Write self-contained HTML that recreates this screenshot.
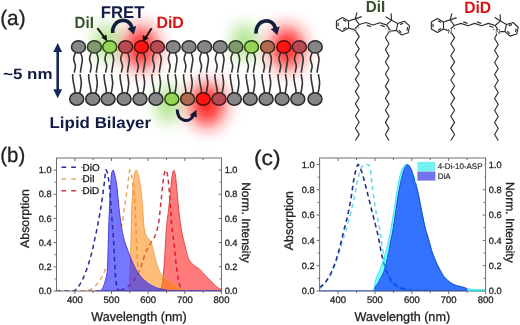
<!DOCTYPE html>
<html><head><meta charset="utf-8"><title>Figure</title>
<style>html,body{margin:0;padding:0;background:#fff;} svg{display:block;}</style></head>
<body>
<svg width="520" height="325" viewBox="0 0 520 325" text-rendering="geometricPrecision">
<rect width="520" height="325" fill="#fff"/>
<defs>
<filter id="blurG" x="-100%" y="-100%" width="300%" height="300%"><feGaussianBlur stdDeviation="8"/></filter>
<filter id="blurR" x="-100%" y="-100%" width="300%" height="300%"><feGaussianBlur stdDeviation="9"/></filter>
<marker id="ah" viewBox="0 0 10 10" refX="8" refY="5" markerWidth="4" markerHeight="4" orient="auto"><path d="M0,0 L10,5 L0,10 z" fill="#111"/></marker>
</defs>
<ellipse cx="107" cy="42" rx="13" ry="18" fill="#98dc70" fill-opacity="0.8" filter="url(#blurG)"/>
<ellipse cx="141" cy="48" rx="16" ry="21" fill="#ff1a1a" fill-opacity="1.0" filter="url(#blurR)"/>
<ellipse cx="245" cy="42" rx="13" ry="18" fill="#98dc70" fill-opacity="0.8" filter="url(#blurG)"/>
<ellipse cx="287" cy="48" rx="16" ry="21" fill="#ff1a1a" fill-opacity="1.0" filter="url(#blurR)"/>
<ellipse cx="168" cy="104" rx="12" ry="19" fill="#98dc70" fill-opacity="0.8" filter="url(#blurG)"/>
<ellipse cx="207" cy="105" rx="17" ry="21" fill="#ff1a1a" fill-opacity="1.0" filter="url(#blurR)"/>
<path d="M75.4,52.6 C75.11,53.62 73.65,56.53 73.65,58.7 C73.65,60.87 75.26,63.52 75.4,65.6 C75.54,67.68 74.68,70.02 74.5,71.2 C74.32,72.38 74.33,72.45 74.3,72.7 M80.55,52.6 C80.84,53.62 82.15,56.53 82.3,58.7 C82.45,60.87 81.74,63.52 81.45,65.6 C81.16,67.68 80.69,70.02 80.55,71.2 C80.41,72.38 80.59,72.45 80.6,72.7 M91.3,52.6 C91.01,53.62 89.55,56.53 89.55,58.7 C89.55,60.87 91.16,63.52 91.3,65.6 C91.44,67.68 90.58,70.02 90.4,71.2 C90.22,72.38 90.23,72.45 90.2,72.7 M96.45,52.6 C96.74,53.62 98.05,56.53 98.2,58.7 C98.35,60.87 97.64,63.52 97.35,65.6 C97.06,67.68 96.59,70.02 96.45,71.2 C96.31,72.38 96.49,72.45 96.5,72.7 M106.7,52.6 C106.41,53.62 104.95,56.53 104.95,58.7 C104.95,60.87 106.56,63.52 106.7,65.6 C106.84,67.68 105.98,70.02 105.8,71.2 C105.62,72.38 105.63,72.45 105.6,72.7 M111.85,52.6 C112.14,53.62 113.45,56.53 113.6,58.7 C113.75,60.87 113.04,63.52 112.75,65.6 C112.46,67.68 111.99,70.02 111.85,71.2 C111.71,72.38 111.89,72.45 111.9,72.7 M122.5,52.6 C122.21,53.62 120.75,56.53 120.75,58.7 C120.75,60.87 122.36,63.52 122.5,65.6 C122.64,67.68 121.78,70.02 121.6,71.2 C121.42,72.38 121.43,72.45 121.4,72.7 M127.65,52.6 C127.94,53.62 129.25,56.53 129.4,58.7 C129.55,60.87 128.84,63.52 128.55,65.6 C128.26,67.68 127.79,70.02 127.65,71.2 C127.51,72.38 127.69,72.45 127.7,72.7 M138.3,52.6 C138.01,53.62 136.55,56.53 136.55,58.7 C136.55,60.87 138.16,63.52 138.3,65.6 C138.44,67.68 137.58,70.02 137.4,71.2 C137.22,72.38 137.23,72.45 137.2,72.7 M143.45,52.6 C143.74,53.62 145.05,56.53 145.2,58.7 C145.35,60.87 144.64,63.52 144.35,65.6 C144.06,67.68 143.59,70.02 143.45,71.2 C143.31,72.38 143.49,72.45 143.5,72.7 M154.3,52.6 C154.01,53.62 152.55,56.53 152.55,58.7 C152.55,60.87 154.16,63.52 154.3,65.6 C154.44,67.68 153.58,70.02 153.4,71.2 C153.22,72.38 153.23,72.45 153.2,72.7 M159.45,52.6 C159.74,53.62 161.05,56.53 161.2,58.7 C161.35,60.87 160.64,63.52 160.35,65.6 C160.06,67.68 159.59,70.02 159.45,71.2 C159.31,72.38 159.49,72.45 159.5,72.7 M170.1,52.6 C169.81,53.62 168.35,56.53 168.35,58.7 C168.35,60.87 169.96,63.52 170.1,65.6 C170.24,67.68 169.38,70.02 169.2,71.2 C169.02,72.38 169.03,72.45 169,72.7 M175.25,52.6 C175.54,53.62 176.85,56.53 177,58.7 C177.15,60.87 176.44,63.52 176.15,65.6 C175.86,67.68 175.39,70.02 175.25,71.2 C175.11,72.38 175.29,72.45 175.3,72.7 M185.9,52.6 C185.61,53.62 184.15,56.53 184.15,58.7 C184.15,60.87 185.76,63.52 185.9,65.6 C186.04,67.68 185.18,70.02 185,71.2 C184.82,72.38 184.83,72.45 184.8,72.7 M191.05,52.6 C191.34,53.62 192.65,56.53 192.8,58.7 C192.95,60.87 192.24,63.52 191.95,65.6 C191.66,67.68 191.19,70.02 191.05,71.2 C190.91,72.38 191.09,72.45 191.1,72.7 M201.5,52.6 C201.21,53.62 199.75,56.53 199.75,58.7 C199.75,60.87 201.36,63.52 201.5,65.6 C201.64,67.68 200.78,70.02 200.6,71.2 C200.42,72.38 200.43,72.45 200.4,72.7 M206.65,52.6 C206.94,53.62 208.25,56.53 208.4,58.7 C208.55,60.87 207.84,63.52 207.55,65.6 C207.26,67.68 206.79,70.02 206.65,71.2 C206.51,72.38 206.69,72.45 206.7,72.7 M217.1,52.6 C216.81,53.62 215.35,56.53 215.35,58.7 C215.35,60.87 216.96,63.52 217.1,65.6 C217.24,67.68 216.38,70.02 216.2,71.2 C216.02,72.38 216.03,72.45 216,72.7 M222.25,52.6 C222.54,53.62 223.85,56.53 224,58.7 C224.15,60.87 223.44,63.52 223.15,65.6 C222.86,67.68 222.39,70.02 222.25,71.2 C222.11,72.38 222.29,72.45 222.3,72.7 M232.7,52.6 C232.41,53.62 230.95,56.53 230.95,58.7 C230.95,60.87 232.56,63.52 232.7,65.6 C232.84,67.68 231.98,70.02 231.8,71.2 C231.62,72.38 231.63,72.45 231.6,72.7 M237.85,52.6 C238.14,53.62 239.45,56.53 239.6,58.7 C239.75,60.87 239.04,63.52 238.75,65.6 C238.46,67.68 237.99,70.02 237.85,71.2 C237.71,72.38 237.89,72.45 237.9,72.7 M248.4,52.6 C248.11,53.62 246.65,56.53 246.65,58.7 C246.65,60.87 248.26,63.52 248.4,65.6 C248.54,67.68 247.68,70.02 247.5,71.2 C247.32,72.38 247.33,72.45 247.3,72.7 M253.55,52.6 C253.84,53.62 255.15,56.53 255.3,58.7 C255.45,60.87 254.74,63.52 254.45,65.6 C254.16,67.68 253.69,70.02 253.55,71.2 C253.41,72.38 253.59,72.45 253.6,72.7 M264.5,52.6 C264.21,53.62 262.75,56.53 262.75,58.7 C262.75,60.87 264.36,63.52 264.5,65.6 C264.64,67.68 263.78,70.02 263.6,71.2 C263.42,72.38 263.43,72.45 263.4,72.7 M269.65,52.6 C269.94,53.62 271.25,56.53 271.4,58.7 C271.55,60.87 270.84,63.52 270.55,65.6 C270.26,67.68 269.79,70.02 269.65,71.2 C269.51,72.38 269.69,72.45 269.7,72.7 M280.7,52.6 C280.41,53.62 278.95,56.53 278.95,58.7 C278.95,60.87 280.56,63.52 280.7,65.6 C280.84,67.68 279.98,70.02 279.8,71.2 C279.62,72.38 279.63,72.45 279.6,72.7 M285.85,52.6 C286.14,53.62 287.45,56.53 287.6,58.7 C287.75,60.87 287.04,63.52 286.75,65.6 C286.46,67.68 285.99,70.02 285.85,71.2 C285.71,72.38 285.89,72.45 285.9,72.7 M296.3,52.6 C296.01,53.62 294.55,56.53 294.55,58.7 C294.55,60.87 296.16,63.52 296.3,65.6 C296.44,67.68 295.58,70.02 295.4,71.2 C295.22,72.38 295.23,72.45 295.2,72.7 M301.45,52.6 C301.74,53.62 303.05,56.53 303.2,58.7 C303.35,60.87 302.64,63.52 302.35,65.6 C302.06,67.68 301.59,70.02 301.45,71.2 C301.31,72.38 301.49,72.45 301.5,72.7 M312.1,52.6 C311.81,53.62 310.35,56.53 310.35,58.7 C310.35,60.87 311.96,63.52 312.1,65.6 C312.24,67.68 311.38,70.02 311.2,71.2 C311.02,72.38 311.03,72.45 311,72.7 M317.25,52.6 C317.54,53.62 318.85,56.53 319,58.7 C319.15,60.87 318.44,63.52 318.15,65.6 C317.86,67.68 317.39,70.02 317.25,71.2 C317.11,72.38 317.29,72.45 317.3,72.7 M73,74.1 C72.94,74.5 72.57,75.03 72.65,76.5 C72.73,77.97 73.14,80.68 73.5,82.9 C73.86,85.12 74.58,88.03 74.8,89.8 C75.02,91.57 74.84,92.88 74.85,93.5 M80,74.1 C80.08,74.5 80.23,75.03 80.45,76.5 C80.67,77.97 81.3,80.68 81.3,82.9 C81.3,85.12 80.74,88.03 80.45,89.8 C80.16,91.57 79.7,92.88 79.55,93.5 M89,74.1 C88.94,74.5 88.57,75.03 88.65,76.5 C88.73,77.97 89.14,80.68 89.5,82.9 C89.86,85.12 90.58,88.03 90.8,89.8 C91.02,91.57 90.84,92.88 90.85,93.5 M96,74.1 C96.08,74.5 96.23,75.03 96.45,76.5 C96.67,77.97 97.3,80.68 97.3,82.9 C97.3,85.12 96.74,88.03 96.45,89.8 C96.16,91.57 95.7,92.88 95.55,93.5 M104.4,74.1 C104.34,74.5 103.97,75.03 104.05,76.5 C104.13,77.97 104.54,80.68 104.9,82.9 C105.26,85.12 105.97,88.03 106.2,89.8 C106.42,91.57 106.24,92.88 106.25,93.5 M111.4,74.1 C111.47,74.5 111.63,75.03 111.85,76.5 C112.07,77.97 112.7,80.68 112.7,82.9 C112.7,85.12 112.14,88.03 111.85,89.8 C111.56,91.57 111.1,92.88 110.95,93.5 M120.4,74.1 C120.34,74.5 119.97,75.03 120.05,76.5 C120.13,77.97 120.54,80.68 120.9,82.9 C121.26,85.12 121.97,88.03 122.2,89.8 C122.42,91.57 122.24,92.88 122.25,93.5 M127.4,74.1 C127.47,74.5 127.63,75.03 127.85,76.5 C128.07,77.97 128.7,80.68 128.7,82.9 C128.7,85.12 128.14,88.03 127.85,89.8 C127.56,91.57 127.1,92.88 126.95,93.5 M136.3,74.1 C136.24,74.5 135.87,75.03 135.95,76.5 C136.03,77.97 136.44,80.68 136.8,82.9 C137.16,85.12 137.88,88.03 138.1,89.8 C138.33,91.57 138.14,92.88 138.15,93.5 M143.3,74.1 C143.38,74.5 143.53,75.03 143.75,76.5 C143.97,77.97 144.6,80.68 144.6,82.9 C144.6,85.12 144.04,88.03 143.75,89.8 C143.46,91.57 143,92.88 142.85,93.5 M152.2,74.1 C152.14,74.5 151.77,75.03 151.85,76.5 C151.93,77.97 152.34,80.68 152.7,82.9 C153.06,85.12 153.78,88.03 154,89.8 C154.23,91.57 154.04,92.88 154.05,93.5 M159.2,74.1 C159.28,74.5 159.43,75.03 159.65,76.5 C159.87,77.97 160.5,80.68 160.5,82.9 C160.5,85.12 159.94,88.03 159.65,89.8 C159.36,91.57 158.9,92.88 158.75,93.5 M168.1,74.1 C168.04,74.5 167.67,75.03 167.75,76.5 C167.83,77.97 168.24,80.68 168.6,82.9 C168.96,85.12 169.68,88.03 169.9,89.8 C170.13,91.57 169.94,92.88 169.95,93.5 M175.1,74.1 C175.18,74.5 175.33,75.03 175.55,76.5 C175.77,77.97 176.4,80.68 176.4,82.9 C176.4,85.12 175.84,88.03 175.55,89.8 C175.26,91.57 174.8,92.88 174.65,93.5 M183.9,74.1 C183.84,74.5 183.47,75.03 183.55,76.5 C183.63,77.97 184.04,80.68 184.4,82.9 C184.76,85.12 185.48,88.03 185.7,89.8 C185.93,91.57 185.74,92.88 185.75,93.5 M190.9,74.1 C190.97,74.5 191.13,75.03 191.35,76.5 C191.57,77.97 192.2,80.68 192.2,82.9 C192.2,85.12 191.64,88.03 191.35,89.8 C191.06,91.57 190.6,92.88 190.45,93.5 M199.5,74.1 C199.44,74.5 199.07,75.03 199.15,76.5 C199.23,77.97 199.64,80.68 200,82.9 C200.36,85.12 201.08,88.03 201.3,89.8 C201.53,91.57 201.34,92.88 201.35,93.5 M206.5,74.1 C206.57,74.5 206.73,75.03 206.95,76.5 C207.17,77.97 207.8,80.68 207.8,82.9 C207.8,85.12 207.24,88.03 206.95,89.8 C206.66,91.57 206.2,92.88 206.05,93.5 M215.3,74.1 C215.24,74.5 214.87,75.03 214.95,76.5 C215.03,77.97 215.44,80.68 215.8,82.9 C216.16,85.12 216.88,88.03 217.1,89.8 C217.33,91.57 217.14,92.88 217.15,93.5 M222.3,74.1 C222.38,74.5 222.53,75.03 222.75,76.5 C222.97,77.97 223.6,80.68 223.6,82.9 C223.6,85.12 223.04,88.03 222.75,89.8 C222.46,91.57 222,92.88 221.85,93.5 M230.6,74.1 C230.54,74.5 230.17,75.03 230.25,76.5 C230.33,77.97 230.74,80.68 231.1,82.9 C231.46,85.12 232.18,88.03 232.4,89.8 C232.63,91.57 232.44,92.88 232.45,93.5 M237.6,74.1 C237.68,74.5 237.83,75.03 238.05,76.5 C238.27,77.97 238.9,80.68 238.9,82.9 C238.9,85.12 238.34,88.03 238.05,89.8 C237.76,91.57 237.3,92.88 237.15,93.5 M246.5,74.1 C246.44,74.5 246.07,75.03 246.15,76.5 C246.23,77.97 246.64,80.68 247,82.9 C247.36,85.12 248.08,88.03 248.3,89.8 C248.53,91.57 248.34,92.88 248.35,93.5 M253.5,74.1 C253.57,74.5 253.73,75.03 253.95,76.5 C254.17,77.97 254.8,80.68 254.8,82.9 C254.8,85.12 254.24,88.03 253.95,89.8 C253.66,91.57 253.2,92.88 253.05,93.5 M262.4,74.1 C262.34,74.5 261.97,75.03 262.05,76.5 C262.13,77.97 262.54,80.68 262.9,82.9 C263.26,85.12 263.98,88.03 264.2,89.8 C264.43,91.57 264.24,92.88 264.25,93.5 M269.4,74.1 C269.48,74.5 269.63,75.03 269.85,76.5 C270.07,77.97 270.7,80.68 270.7,82.9 C270.7,85.12 270.14,88.03 269.85,89.8 C269.56,91.57 269.1,92.88 268.95,93.5 M278.4,74.1 C278.34,74.5 277.97,75.03 278.05,76.5 C278.13,77.97 278.54,80.68 278.9,82.9 C279.26,85.12 279.98,88.03 280.2,89.8 C280.43,91.57 280.24,92.88 280.25,93.5 M285.4,74.1 C285.48,74.5 285.63,75.03 285.85,76.5 C286.07,77.97 286.7,80.68 286.7,82.9 C286.7,85.12 286.14,88.03 285.85,89.8 C285.56,91.57 285.1,92.88 284.95,93.5 M294.1,74.1 C294.04,74.5 293.67,75.03 293.75,76.5 C293.83,77.97 294.24,80.68 294.6,82.9 C294.96,85.12 295.68,88.03 295.9,89.8 C296.13,91.57 295.94,92.88 295.95,93.5 M301.1,74.1 C301.18,74.5 301.33,75.03 301.55,76.5 C301.77,77.97 302.4,80.68 302.4,82.9 C302.4,85.12 301.84,88.03 301.55,89.8 C301.26,91.57 300.8,92.88 300.65,93.5 M311.3,74.1 C311.24,74.5 310.87,75.03 310.95,76.5 C311.03,77.97 311.44,80.68 311.8,82.9 C312.16,85.12 312.88,88.03 313.1,89.8 C313.33,91.57 313.14,92.88 313.15,93.5 M318.3,74.1 C318.38,74.5 318.53,75.03 318.75,76.5 C318.97,77.97 319.6,80.68 319.6,82.9 C319.6,85.12 319.04,88.03 318.75,89.8 C318.46,91.57 318,92.88 317.85,93.5" fill="none" stroke="#333" stroke-width="1.6"/>
<ellipse cx="78.5" cy="46.9" rx="7" ry="6.2" fill="#868686" stroke="#2a2a2a" stroke-width="1.5"/>
<ellipse cx="94.4" cy="46.9" rx="7" ry="6.2" fill="#7f9a6c" stroke="#2e3a26" stroke-width="1.5"/>
<ellipse cx="109.8" cy="46.9" rx="7" ry="6.2" fill="#96d458" stroke="#2a4a14" stroke-width="1.5"/>
<ellipse cx="125.6" cy="46.9" rx="7" ry="6.2" fill="#b84a52" stroke="#4a1a1e" stroke-width="1.5"/>
<ellipse cx="141.4" cy="46.9" rx="7" ry="6.2" fill="#ff1414" stroke="#5a0a0a" stroke-width="1.5"/>
<ellipse cx="157.4" cy="46.9" rx="7" ry="6.2" fill="#b84a52" stroke="#4a1a1e" stroke-width="1.5"/>
<ellipse cx="173.2" cy="46.9" rx="7" ry="6.2" fill="#868686" stroke="#2a2a2a" stroke-width="1.5"/>
<ellipse cx="189" cy="46.9" rx="7" ry="6.2" fill="#868686" stroke="#2a2a2a" stroke-width="1.5"/>
<ellipse cx="204.6" cy="46.9" rx="7" ry="6.2" fill="#868686" stroke="#2a2a2a" stroke-width="1.5"/>
<ellipse cx="220.2" cy="46.9" rx="7" ry="6.2" fill="#868686" stroke="#2a2a2a" stroke-width="1.5"/>
<ellipse cx="235.8" cy="46.9" rx="7" ry="6.2" fill="#7f9a6c" stroke="#2e3a26" stroke-width="1.5"/>
<ellipse cx="251.5" cy="46.9" rx="7" ry="6.2" fill="#96d458" stroke="#2a4a14" stroke-width="1.5"/>
<ellipse cx="267.6" cy="46.9" rx="7" ry="6.2" fill="#b06a52" stroke="#3e2418" stroke-width="1.5"/>
<ellipse cx="283.8" cy="46.9" rx="7" ry="6.2" fill="#ff1414" stroke="#5a0a0a" stroke-width="1.5"/>
<ellipse cx="299.4" cy="46.9" rx="7" ry="6.2" fill="#b84a52" stroke="#4a1a1e" stroke-width="1.5"/>
<ellipse cx="315.2" cy="46.9" rx="7" ry="6.2" fill="#868686" stroke="#2a2a2a" stroke-width="1.5"/>
<ellipse cx="76.7" cy="99" rx="7" ry="6.2" fill="#868686" stroke="#2a2a2a" stroke-width="1.5"/>
<ellipse cx="92.7" cy="99" rx="7" ry="6.2" fill="#868686" stroke="#2a2a2a" stroke-width="1.5"/>
<ellipse cx="108.1" cy="99" rx="7" ry="6.2" fill="#868686" stroke="#2a2a2a" stroke-width="1.5"/>
<ellipse cx="124.1" cy="99" rx="7" ry="6.2" fill="#868686" stroke="#2a2a2a" stroke-width="1.5"/>
<ellipse cx="140" cy="99" rx="7" ry="6.2" fill="#868686" stroke="#2a2a2a" stroke-width="1.5"/>
<ellipse cx="155.9" cy="99" rx="7" ry="6.2" fill="#868686" stroke="#2a2a2a" stroke-width="1.5"/>
<ellipse cx="171.8" cy="99" rx="7" ry="6.2" fill="#96d458" stroke="#2a4a14" stroke-width="1.5"/>
<ellipse cx="187.6" cy="99" rx="7" ry="6.2" fill="#b06a52" stroke="#3e2418" stroke-width="1.5"/>
<ellipse cx="203.2" cy="99" rx="7" ry="6.2" fill="#ff1414" stroke="#5a0a0a" stroke-width="1.5"/>
<ellipse cx="219" cy="99" rx="7" ry="6.2" fill="#b84a52" stroke="#4a1a1e" stroke-width="1.5"/>
<ellipse cx="234.3" cy="99" rx="7" ry="6.2" fill="#868686" stroke="#2a2a2a" stroke-width="1.5"/>
<ellipse cx="250.2" cy="99" rx="7" ry="6.2" fill="#868686" stroke="#2a2a2a" stroke-width="1.5"/>
<ellipse cx="266.1" cy="99" rx="7" ry="6.2" fill="#868686" stroke="#2a2a2a" stroke-width="1.5"/>
<ellipse cx="282.1" cy="99" rx="7" ry="6.2" fill="#868686" stroke="#2a2a2a" stroke-width="1.5"/>
<ellipse cx="297.8" cy="99" rx="7" ry="6.2" fill="#868686" stroke="#2a2a2a" stroke-width="1.5"/>
<ellipse cx="315" cy="99" rx="7" ry="6.2" fill="#868686" stroke="#2a2a2a" stroke-width="1.5"/>
<path d="M112.6,33 C112,17.2 131,17.2 131.8,28" fill="none" stroke="#12203f" stroke-width="3.6"/>
<path d="M127.4,28.4 L136.2,26 L133.8,34.4 Z" fill="#12203f"/>
<path d="M256,33.6 C255.4,17.6 274.4,17.6 275.2,28.5" fill="none" stroke="#12203f" stroke-width="3.6"/>
<path d="M270.8,28.9 L279.6,26.5 L277.2,34.9 Z" fill="#12203f"/>
<path d="M177.2,109.5 C177.5,122 190,123.5 193.2,115.5" fill="none" stroke="#121a38" stroke-width="3"/>
<path d="M189.6,115.2 L196.8,117.2 L196.4,109.8 Z" fill="#121a38"/>
<line x1="97.4" y1="28.2" x2="104.6" y2="37.6" stroke="#111" stroke-width="1.9"/>
<path d="M101.4,37.6 L107.2,41.4 L106.4,34.4 Z" fill="#111"/>
<line x1="151.6" y1="28.2" x2="145.8" y2="37.6" stroke="#111" stroke-width="1.9"/>
<path d="M142.6,35 L143.0,41.6 L148.8,38.2 Z" fill="#111"/>
<text x="74.6" y="27.8" font-size="16.2" font-weight="bold" fill="#36522a" textLength="19.3" lengthAdjust="spacingAndGlyphs" font-family="Liberation Sans, Arial, sans-serif">DiI</text>
<text x="100.8" y="17.5" font-size="17" font-weight="bold" fill="#141d4a" textLength="43.6" lengthAdjust="spacingAndGlyphs" font-family="Liberation Sans, Arial, sans-serif">FRET</text>
<text x="156.4" y="27.6" font-size="16.4" font-weight="bold" fill="#d81414" textLength="27.4" lengthAdjust="spacingAndGlyphs" font-family="Liberation Sans, Arial, sans-serif">DiD</text>
<text x="3.0" y="79.3" font-size="15" font-weight="bold" fill="#131c45" textLength="49.6" lengthAdjust="spacingAndGlyphs" font-family="Liberation Sans, Arial, sans-serif">~5 nm</text>
<text x="49.5" y="127.5" font-size="15.8" font-weight="bold" fill="#131c45" textLength="101.6" lengthAdjust="spacingAndGlyphs" font-family="Liberation Sans, Arial, sans-serif">Lipid Bilayer</text>
<text x="0.2" y="25.2" font-size="21" fill="#222" stroke="#222" stroke-width="0.3" textLength="25.4" lengthAdjust="spacingAndGlyphs" font-family="Liberation Sans, Arial, sans-serif">(a)</text>
<line x1="57.7" y1="50" x2="57.7" y2="91" stroke="#16285a" stroke-width="2.6"/>
<path d="M53.3,52 L57.7,43 L62.1,52 Z" fill="#16285a"/>
<path d="M53.3,89.2 L57.7,98.2 L62.1,89.2 Z" fill="#16285a"/>
<path d="M342.5,17.5 L348.56,21 L348.56,28 L342.5,31.5 L336.44,28 L336.44,21 Z M343.15,19.84 L346.21,21.6 M346.21,27.4 L343.15,29.16 M338.14,26.26 L338.14,22.74 M348.56,21 L355.22,18.84 L359.33,24.5 M355.22,30.16 L348.56,28 M359.33,24.5 L354.72,28.96 M355.22,18.84 L357.02,12.34 M355.22,18.84 L361.72,16.64 M359.33,24.5 L366.12,22.5 L372.9,25 L379.68,22.7 L386.47,24.9 M366.85,25.11 L371.12,26.69 M380.5,25.28 L384.77,26.66 M355.22,30.16 L359.2,36.66 L355.4,42.77 L359.2,48.88 L355.4,54.99 L359.2,61.1 L355.4,67.2 L359.2,73.31 L355.4,79.42 L359.2,85.53 L355.4,91.64 L359.2,97.74 L355.4,103.85 L359.2,109.96 L355.4,116.07 L359.2,122.18 L355.4,128.28 L359.2,134.39 L355.4,140.5 M389.42,31.24 L385.4,37.74 L389,43.79 L385.4,49.83 L389,55.88 L385.4,61.92 L389,67.97 L385.4,74.01 L389,80.06 L385.4,86.1 L389,92.14 L385.4,98.19 L389,104.23 L385.4,110.28 L389,116.32 L385.4,122.37 L389,128.41 L385.4,134.46 L389,140.5" fill="none" stroke="#2e2e2e" stroke-width="1.15" stroke-linejoin="round"/>
<path transform="rotate(11,386.47,24.9)" d="M403.3,17.9 L397.24,21.4 L397.24,28.4 L403.3,31.9 L409.36,28.4 L409.36,21.4 Z M402.65,20.24 L399.59,22 M399.59,27.8 L402.65,29.56 M407.66,26.66 L407.66,23.14 M397.24,21.4 L390.58,19.24 L386.47,24.9 M390.58,30.56 L397.24,28.4 M386.47,24.9 L391.08,29.36 M390.58,19.24 L388.78,12.74 M390.58,19.24 L384.08,17.04" fill="none" stroke="#2e2e2e" stroke-width="1.15" stroke-linejoin="round"/>
<text x="365.8" y="12" font-size="16" font-weight="bold" fill="#34502a" textLength="19.4" lengthAdjust="spacingAndGlyphs" font-family="Liberation Sans, Arial, sans-serif">DiI</text>
<text x="355.22" y="32.36" text-anchor="middle" font-size="6" fill="#999" font-family="Liberation Sans, Arial, sans-serif">N</text>
<text x="358.82" y="28.96" text-anchor="middle" font-size="4.5" fill="#999" font-family="Liberation Sans, Arial, sans-serif">+</text>
<text x="389.42" y="33.44" text-anchor="middle" font-size="6" fill="#999" font-family="Liberation Sans, Arial, sans-serif">N</text>
<text x="385.82" y="30.04" text-anchor="middle" font-size="4.5" fill="#999" font-family="Liberation Sans, Arial, sans-serif">+</text>
<path d="M437.4,18.5 L443.46,22 L443.46,29 L437.4,32.5 L431.34,29 L431.34,22 Z M438.05,20.84 L441.11,22.6 M441.11,28.4 L438.05,30.16 M433.04,27.26 L433.04,23.74 M443.46,22 L450.12,19.84 L454.23,25.5 M450.12,31.16 L443.46,29 M454.23,25.5 L449.62,29.96 M450.12,19.84 L451.92,13.34 M450.12,19.84 L456.62,17.64 M454.23,25.5 L461.06,23.4 L467.88,25.8 L474.7,23.4 L481.52,25.8 L488.34,23.4 L495.17,25.5 M463.29,21.85 L467.58,23.36 M476.93,21.85 L481.23,23.36 M489.2,25.96 L493.5,27.29 M450.12,31.16 L454.6,37.66 L450.8,43.71 L454.6,49.76 L450.8,55.81 L454.6,61.86 L450.8,67.91 L454.6,73.96 L450.8,80.01 L454.6,86.06 L450.8,92.11 L454.6,98.16 L450.8,104.2 L454.6,110.25 L450.8,116.3 L454.6,122.35 L450.8,128.4 L454.6,134.45 L450.8,140.5 M497.9,31.94 L494.6,38.44 L498.3,44.45 L494.6,50.45 L498.3,56.45 L494.6,62.46 L498.3,68.46 L494.6,74.46 L498.3,80.47 L494.6,86.47 L498.3,92.47 L494.6,98.48 L498.3,104.48 L494.6,110.48 L498.3,116.49 L494.6,122.49 L498.3,128.49 L494.6,134.5 L498.3,140.5" fill="none" stroke="#2e2e2e" stroke-width="1.15" stroke-linejoin="round"/>
<path transform="rotate(13,495.17,25.5)" d="M512,18.5 L505.94,22 L505.94,29 L512,32.5 L518.06,29 L518.06,22 Z M511.35,20.84 L508.29,22.6 M508.29,28.4 L511.35,30.16 M516.36,27.26 L516.36,23.74 M505.94,22 L499.28,19.84 L495.17,25.5 M499.28,31.16 L505.94,29 M495.17,25.5 L499.78,29.96 M499.28,19.84 L497.48,13.34 M499.28,19.84 L492.78,17.64" fill="none" stroke="#2e2e2e" stroke-width="1.15" stroke-linejoin="round"/>
<text x="464.2" y="12.8" font-size="16.5" font-weight="bold" fill="#d81414" textLength="27" lengthAdjust="spacingAndGlyphs" font-family="Liberation Sans, Arial, sans-serif">DiD</text>
<circle cx="450.12" cy="31.16" r="2.3" fill="#fff"/>
<text x="450.12" y="33.66" text-anchor="middle" font-size="7" fill="#333" font-family="Liberation Sans, Arial, sans-serif">N</text>
<text x="454.32" y="29.76" text-anchor="middle" font-size="5" fill="#333" font-family="Liberation Sans, Arial, sans-serif">+</text>
<circle cx="497.9" cy="31.94" r="2.3" fill="#fff"/>
<text x="497.9" y="34.44" text-anchor="middle" font-size="7" fill="#333" font-family="Liberation Sans, Arial, sans-serif">N</text>
<text x="493.7" y="30.54" text-anchor="middle" font-size="5" fill="#333" font-family="Liberation Sans, Arial, sans-serif">+</text>
<g id="panel-b">
<clipPath id="cb"><rect x="56.5" y="158" width="165" height="133"/></clipPath>
<g clip-path="url(#cb)">
<clipPath id="noDiO"><path clip-rule="evenodd" d="M0,0 L520,0 L520,325 L0,325 Z M99,291 L99.4,291 L99.8,291 L100.1,291 L100.5,291 L100.9,290.8 L101.2,290.3 L101.6,289.8 L102,289.2 L102.3,288.6 L102.7,287.9 L103.1,287.2 L103.4,286.3 L103.8,285.4 L104.2,284.4 L104.5,283.3 L104.9,282.1 L105.3,280.7 L105.6,279.2 L106,277.7 L106.4,276.3 L106.7,274.7 L107.1,272.5 L107.5,268.3 L107.8,260.1 L108.2,246.4 L108.6,231.7 L108.9,221.3 L109.3,212 L109.7,203.9 L110,196.6 L110.4,190.1 L110.8,184.5 L111.1,179.4 L111.5,175 L111.9,172.4 L112.2,171.3 L112.6,170.5 L113,170.1 L113.3,170.1 L113.7,170.9 L114.1,172.2 L114.4,173.6 L114.8,175 L115.2,176.6 L115.5,178.3 L115.9,180.3 L116.3,182.4 L116.6,184.7 L117,187.3 L117.4,190.5 L117.7,194.3 L118.1,198.4 L118.5,202.5 L118.8,206.3 L119.2,209.6 L119.6,212.7 L119.9,215.8 L120.3,218.6 L120.7,221.4 L121,223.9 L121.4,226.2 L121.8,228.4 L122.1,230.5 L122.5,232.4 L122.9,234.3 L123.2,236 L123.6,237.6 L124,239 L124.3,240.3 L124.7,241.6 L125.1,242.7 L125.4,243.9 L125.8,245 L126.2,246 L126.5,247 L126.9,248 L127.3,249 L127.6,250 L128,250.9 L128.4,251.9 L128.7,252.9 L129.1,253.9 L129.5,254.8 L129.8,255.8 L130.2,256.7 L130.6,257.6 L130.9,258.5 L131.3,259.3 L131.7,260.2 L132,261 L132.4,261.8 L132.8,262.7 L133.1,263.5 L133.5,264.3 L133.9,265.1 L134.2,265.9 L134.6,266.6 L135,267.4 L135.3,268.2 L135.7,268.9 L136.1,269.6 L136.4,270.3 L136.8,270.9 L137.2,271.5 L137.5,272.1 L137.9,272.6 L138.3,273.2 L138.6,273.7 L139,274.2 L139.4,274.7 L139.7,275.2 L140.1,275.6 L140.5,276.1 L140.8,276.5 L141.2,277 L141.6,277.4 L141.9,277.8 L142.3,278.2 L142.7,278.6 L143,279 L143.4,279.3 L143.8,279.7 L144.1,280 L144.5,280.3 L144.9,280.7 L145.2,281 L145.6,281.3 L146,281.5 L146.3,281.8 L146.7,282.1 L147.1,282.4 L147.4,282.7 L147.8,282.9 L148.2,283.2 L148.5,283.4 L148.9,283.7 L149.3,283.9 L149.6,284.2 L150,284.4 L150.4,284.7 L150.7,284.9 L151.1,285.1 L151.5,285.3 L151.8,285.5 L152.2,285.7 L152.6,285.9 L152.9,286.1 L153.3,286.3 L153.7,286.5 L154,286.7 L154.4,286.8 L154.8,287 L155.1,287.2 L155.5,287.3 L155.9,287.4 L156.2,287.6 L156.6,287.7 L157,287.8 L157.3,287.9 L157.7,288.1 L158.1,288.2 L158.4,288.3 L158.8,288.4 L159.2,288.5 L159.5,288.6 L159.9,288.7 L160.3,288.8 L160.6,288.8 L161,288.9 L161.4,289 L161.7,289.1 L162.1,289.2 L162.5,289.3 L162.8,289.4 L163.2,289.4 L163.6,289.5 L163.9,289.6 L164.3,289.7 L164.7,289.8 L165,289.9 L165.4,290 L165.8,290 L166.1,290.1 L166.5,290.2 L166.9,290.3 L167.2,290.4 L167.6,290.5 L168,290.5 L168.3,290.6 L168.7,290.7 L169.1,290.8 L169.4,290.9 L169.8,290.9 L170.2,291 L170.17,292 L99.03,292 Z"/></clipPath>
<path d="M56.5,291 L56.9,291 L57.2,291 L57.6,291 L58,291 L58.3,291 L58.7,291 L59.1,291 L59.4,291 L59.8,291 L60.2,291 L60.5,291 L60.9,291 L61.3,291 L61.6,291 L62,291 L62.4,291 L62.7,291 L63.1,291 L63.5,291 L63.8,291 L64.2,291 L64.6,291 L64.9,291 L65.3,291 L65.7,291 L66,291 L66.4,291 L66.8,291 L67.1,291 L67.5,291 L67.9,291 L68.2,291 L68.6,291 L69,291 L69.3,291 L69.7,291 L70.1,291 L70.4,291 L70.8,291 L71.2,291 L71.5,291 L71.9,291 L72.3,291 L72.6,291 L73,291 L73.4,291 L73.7,291 L74.1,291 L74.5,291 L74.8,291 L75.2,291 L75.6,291 L75.9,291 L76.3,291 L76.7,291 L77,291 L77.4,291 L77.8,291 L78.1,291 L78.5,291 L78.9,291 L79.2,291 L79.6,291 L80,291 L80.3,291 L80.7,291 L81.1,291 L81.4,291 L81.8,291 L82.2,291 L82.5,291 L82.9,291 L83.3,291 L83.6,291 L84,291 L84.4,291 L84.7,291 L85.1,291 L85.5,291 L85.8,291 L86.2,291 L86.6,291 L86.9,291 L87.3,291 L87.7,291 L88,291 L88.4,291 L88.8,291 L89.1,291 L89.5,291 L89.9,291 L90.2,291 L90.6,291 L91,291 L91.3,291 L91.7,291 L92.1,291 L92.4,291 L92.8,291 L93.2,291 L93.5,291 L93.9,291 L94.3,291 L94.6,291 L95,291 L95.4,291 L95.7,291 L96.1,291 L96.5,291 L96.8,291 L97.2,291 L97.6,291 L97.9,291 L98.3,291 L98.7,291 L99,291 L99.4,291 L99.8,291 L100.1,291 L100.5,291 L100.9,291 L101.2,291 L101.6,291 L102,291 L102.3,291 L102.7,291 L103.1,291 L103.4,291 L103.8,291 L104.2,291 L104.5,291 L104.9,291 L105.3,291 L105.6,291 L106,291 L106.4,291 L106.7,291 L107.1,291 L107.5,291 L107.8,291 L108.2,291 L108.6,291 L108.9,291 L109.3,291 L109.7,291 L110,291 L110.4,291 L110.8,291 L111.1,291 L111.5,291 L111.9,291 L112.2,291 L112.6,291 L113,290.9 L113.3,290.9 L113.7,290.9 L114.1,290.8 L114.4,290.8 L114.8,290.7 L115.2,290.7 L115.5,290.6 L115.9,290.5 L116.3,290.5 L116.6,290.4 L117,290.4 L117.4,290.4 L117.7,290.3 L118.1,290.3 L118.5,290.2 L118.8,290.2 L119.2,290.1 L119.6,290.1 L119.9,290 L120.3,290 L120.7,289.9 L121,289.9 L121.4,289.8 L121.8,289.7 L122.1,289.6 L122.5,289.5 L122.9,289.4 L123.2,289.2 L123.6,289.1 L124,288.9 L124.3,288.7 L124.7,288.5 L125.1,288.3 L125.4,288.1 L125.8,287.9 L126.2,287.7 L126.5,287.4 L126.9,287.2 L127.3,286.9 L127.6,286.7 L128,286.4 L128.4,286.1 L128.7,285.8 L129.1,285.5 L129.5,285.2 L129.8,284.9 L130.2,284.6 L130.6,284.3 L130.9,284 L131.3,283.6 L131.7,283.2 L132,282.8 L132.4,282.4 L132.8,281.9 L133.1,281.5 L133.5,281 L133.9,280.5 L134.2,280 L134.6,279.5 L135,278.9 L135.3,278.4 L135.7,277.8 L136.1,277.2 L136.4,276.6 L136.8,276 L137.2,275.4 L137.5,274.7 L137.9,274.1 L138.3,273.4 L138.6,272.7 L139,272 L139.4,271.2 L139.7,270.4 L140.1,269.4 L140.5,268.4 L140.8,267.4 L141.2,266.3 L141.6,265.1 L141.9,264 L142.3,262.8 L142.7,261.6 L143,260.4 L143.4,259.2 L143.8,258 L144.1,256.9 L144.5,255.8 L144.9,254.7 L145.2,253.7 L145.6,252.7 L146,251.8 L146.3,250.9 L146.7,250.2 L147.1,249.4 L147.4,248.7 L147.8,248.1 L148.2,247.4 L148.5,246.8 L148.9,246.2 L149.3,245.6 L149.6,244.9 L150,244.3 L150.4,243.7 L150.7,243.1 L151.1,242.5 L151.5,241.9 L151.8,241.3 L152.2,240.8 L152.6,240.2 L152.9,239.6 L153.3,239.1 L153.7,238.4 L154,237.8 L154.4,237.1 L154.8,236.3 L155.1,235.5 L155.5,234.6 L155.9,233.6 L156.2,232.6 L156.6,231.5 L157,230.2 L157.3,228.9 L157.7,227.4 L158.1,225.8 L158.4,224 L158.8,221.6 L159.2,218.9 L159.5,215.7 L159.9,212.4 L160.3,208.9 L160.6,205.4 L161,202 L161.4,198.3 L161.7,194.2 L162.1,190.2 L162.5,186.4 L162.8,183 L163.2,180.3 L163.6,177.8 L163.9,175.5 L164.3,173.7 L164.7,172.4 L165,171.5 L165.4,170.7 L165.8,170.2 L166.1,170 L166.5,170.6 L166.9,172 L167.2,173.6 L167.6,175.6 L168,178 L168.3,181 L168.7,184.5 L169.1,188.9 L169.4,193.9 L169.8,199 L170.2,204 L170.5,209.4 L170.9,215 L171.3,220.3 L171.6,224.7 L172,228.3 L172.4,231.4 L172.7,234.2 L173.1,236.9 L173.5,239.5 L173.8,242.1 L174.2,245 L174.6,248.3 L174.9,251.9 L175.3,255.8 L175.7,259.7 L176,263.4 L176.4,266.6 L176.8,269.3 L177.1,271.8 L177.5,274.2 L177.9,276.5 L178.2,278.6 L178.6,280.6 L179,282.3 L179.3,283.8 L179.7,285 L180.1,286 L180.4,287 L180.8,287.9 L181.2,288.7 L181.5,289.5 L181.9,290.1 L182.3,290.6 L182.6,290.9 L183,291 L183.4,291 L183.7,291 L184.1,291 L184.5,291 L184.8,291 L185.2,291 L185.6,291 L185.9,291 L186.3,291 L186.7,291 L187,291 L187.4,291 L187.8,291 L188.1,291 L188.5,291 L188.9,291 L189.2,291 L189.6,291 L190,291 L190.3,291 L190.7,291 L191.1,291 L191.4,291 L191.8,291 L192.2,291 L192.5,291 L192.9,291 L193.3,291 L193.6,291 L194,291 L194.4,291 L194.7,291 L195.1,291 L195.5,291 L195.8,291 L196.2,291 L196.6,291 L196.9,291 L197.3,291 L197.7,291 L198,291 L198.4,291 L198.8,291 L199.1,291 L199.5,291 L199.9,291 L200.2,291 L200.6,291 L201,291 L201.3,291 L201.7,291 L202.1,291 L202.4,291 L202.8,291 L203.2,291 L203.5,291 L203.9,291 L204.3,291 L204.6,291 L205,291 L205.4,291 L205.7,291 L206.1,291 L206.5,291 L206.8,291 L207.2,291 L207.6,291 L207.9,291 L208.3,291 L208.7,291 L209,291 L209.4,291 L209.8,291 L210.1,291 L210.5,291 L210.9,291 L211.2,291 L211.6,291 L212,291 L212.3,291 L212.7,291 L213.1,291 L213.4,291 L213.8,291 L214.2,291 L214.5,291 L214.9,291 L215.3,291 L215.6,291 L216,291 L216.4,291 L216.7,291 L217.1,291 L217.5,291 L217.8,291 L218.2,291 L218.6,291 L218.9,291 L219.3,291 L219.7,291 L220,291 L220.4,291 L220.8,291 L221.1,291 L221.5,291" fill="none" stroke="#cc3344" stroke-width="1.5" stroke-dasharray="4.5,3.5"/>
<path d="M56.5,291 L56.9,291 L57.2,291 L57.6,291 L58,291 L58.3,291 L58.7,291 L59.1,291 L59.4,291 L59.8,291 L60.2,291 L60.5,291 L60.9,291 L61.3,291 L61.6,291 L62,291 L62.4,291 L62.7,291 L63.1,291 L63.5,291 L63.8,291 L64.2,291 L64.6,291 L64.9,291 L65.3,291 L65.7,291 L66,291 L66.4,291 L66.8,291 L67.1,291 L67.5,291 L67.9,291 L68.2,291 L68.6,291 L69,291 L69.3,291 L69.7,291 L70.1,291 L70.4,291 L70.8,291 L71.2,291 L71.5,291 L71.9,291 L72.3,291 L72.6,291 L73,291 L73.4,291 L73.7,291 L74.1,291 L74.5,291 L74.8,291 L75.2,291 L75.6,291 L75.9,291 L76.3,291 L76.7,291 L77,291 L77.4,291 L77.8,291 L78.1,291 L78.5,291 L78.9,291 L79.2,291 L79.6,291 L80,291 L80.3,291 L80.7,291 L81.1,291 L81.4,291 L81.8,291 L82.2,291 L82.5,291 L82.9,291 L83.3,291 L83.6,291 L84,291 L84.4,291 L84.7,291 L85.1,290.9 L85.5,290.9 L85.8,290.8 L86.2,290.7 L86.6,290.7 L86.9,290.6 L87.3,290.5 L87.7,290.4 L88,290.3 L88.4,290.1 L88.8,290 L89.1,289.9 L89.5,289.8 L89.9,289.7 L90.2,289.5 L90.6,289.3 L91,289.1 L91.3,288.9 L91.7,288.7 L92.1,288.5 L92.4,288.2 L92.8,287.9 L93.2,287.7 L93.5,287.4 L93.9,287.1 L94.3,286.8 L94.6,286.5 L95,286.2 L95.4,285.8 L95.7,285.5 L96.1,285.1 L96.5,284.7 L96.8,284.3 L97.2,283.9 L97.6,283.4 L97.9,283 L98.3,282.5 L98.7,282 L99,281.5 L99.4,281 L99.8,280.4 L100.1,279.9 L100.5,279.3 L100.9,278.7 L101.2,278 L101.6,277.3 L102,276.6 L102.3,275.9 L102.7,275.1 L103.1,274.4 L103.4,273.6 L103.8,272.8 L104.2,272 L104.5,271.2 L104.9,270.4 L105.3,269.6 L105.6,268.8 L106,268 L106.4,267.2 L106.7,266.5 L107.1,265.7 L107.5,265 L107.8,264.3 L108.2,263.6 L108.6,262.8 L108.9,262.1 L109.3,261.4 L109.7,260.7 L110,260 L110.4,259.2 L110.8,258.5 L111.1,257.8 L111.5,257.1 L111.9,256.4 L112.2,255.7 L112.6,254.9 L113,254.2 L113.3,253.5 L113.7,252.8 L114.1,252.1 L114.4,251.5 L114.8,250.8 L115.2,250.2 L115.5,249.5 L115.9,248.8 L116.3,248 L116.6,247.1 L117,246.2 L117.4,245.2 L117.7,244.1 L118.1,242.9 L118.5,241.6 L118.8,240.2 L119.2,238.8 L119.6,237.3 L119.9,235.7 L120.3,234 L120.7,232.2 L121,230.5 L121.4,228.6 L121.8,226.5 L122.1,224.1 L122.5,221.6 L122.9,219 L123.2,216.4 L123.6,213.7 L124,211 L124.3,208.5 L124.7,206 L125.1,203.6 L125.4,201.2 L125.8,198.8 L126.2,196.4 L126.5,194 L126.9,191.5 L127.3,189 L127.6,186.5 L128,183.4 L128.4,179.9 L128.7,176.3 L129.1,173.1 L129.5,170.9 L129.8,170 L130.2,170.4 L130.6,171.3 L130.9,172.7 L131.3,174.3 L131.7,176.1 L132,178.3 L132.4,181.2 L132.8,184.5 L133.1,187.7 L133.5,190.6 L133.9,193.6 L134.2,196.8 L134.6,200.4 L135,204.9 L135.3,210.7 L135.7,220.4 L136.1,230.5 L136.4,239.3 L136.8,247.6 L137.2,254.7 L137.5,260.8 L137.9,266.6 L138.3,271.7 L138.6,276 L139,278.9 L139.4,281 L139.7,282.9 L140.1,284.5 L140.5,285.9 L140.8,287.1 L141.2,287.9 L141.6,288.6 L141.9,289.1 L142.3,289.5 L142.7,289.9 L143,290.3 L143.4,290.6 L143.8,290.8 L144.1,291 L144.5,291 L144.9,291 L145.2,291 L145.6,291 L146,291 L146.3,291 L146.7,291 L147.1,291 L147.4,291 L147.8,291 L148.2,291 L148.5,291 L148.9,291 L149.3,291 L149.6,291 L150,291 L150.4,291 L150.7,291 L151.1,291 L151.5,291 L151.8,291 L152.2,291 L152.6,291 L152.9,291 L153.3,291 L153.7,291 L154,291 L154.4,291 L154.8,291 L155.1,291 L155.5,291 L155.9,291 L156.2,291 L156.6,291 L157,291 L157.3,291 L157.7,291 L158.1,291 L158.4,291 L158.8,291 L159.2,291 L159.5,291 L159.9,291 L160.3,291 L160.6,291 L161,291 L161.4,291 L161.7,291 L162.1,291 L162.5,291 L162.8,291 L163.2,291 L163.6,291 L163.9,291 L164.3,291 L164.7,291 L165,291 L165.4,291 L165.8,291 L166.1,291 L166.5,291 L166.9,291 L167.2,291 L167.6,291 L168,291 L168.3,291 L168.7,291 L169.1,291 L169.4,291 L169.8,291 L170.2,291 L170.5,291 L170.9,291 L171.3,291 L171.6,291 L172,291 L172.4,291 L172.7,291 L173.1,291 L173.5,291 L173.8,291 L174.2,291 L174.6,291 L174.9,291 L175.3,291 L175.7,291 L176,291 L176.4,291 L176.8,291 L177.1,291 L177.5,291 L177.9,291 L178.2,291 L178.6,291 L179,291 L179.3,291 L179.7,291 L180.1,291 L180.4,291 L180.8,291 L181.2,291 L181.5,291 L181.9,291 L182.3,291 L182.6,291 L183,291 L183.4,291 L183.7,291 L184.1,291 L184.5,291 L184.8,291 L185.2,291 L185.6,291 L185.9,291 L186.3,291 L186.7,291 L187,291 L187.4,291 L187.8,291 L188.1,291 L188.5,291 L188.9,291 L189.2,291 L189.6,291 L190,291 L190.3,291 L190.7,291 L191.1,291 L191.4,291 L191.8,291 L192.2,291 L192.5,291 L192.9,291 L193.3,291 L193.6,291 L194,291 L194.4,291 L194.7,291 L195.1,291 L195.5,291 L195.8,291 L196.2,291 L196.6,291 L196.9,291 L197.3,291 L197.7,291 L198,291 L198.4,291 L198.8,291 L199.1,291 L199.5,291 L199.9,291 L200.2,291 L200.6,291 L201,291 L201.3,291 L201.7,291 L202.1,291 L202.4,291 L202.8,291 L203.2,291 L203.5,291 L203.9,291 L204.3,291 L204.6,291 L205,291 L205.4,291 L205.7,291 L206.1,291 L206.5,291 L206.8,291 L207.2,291 L207.6,291 L207.9,291 L208.3,291 L208.7,291 L209,291 L209.4,291 L209.8,291 L210.1,291 L210.5,291 L210.9,291 L211.2,291 L211.6,291 L212,291 L212.3,291 L212.7,291 L213.1,291 L213.4,291 L213.8,291 L214.2,291 L214.5,291 L214.9,291 L215.3,291 L215.6,291 L216,291 L216.4,291 L216.7,291 L217.1,291 L217.5,291 L217.8,291 L218.2,291 L218.6,291 L218.9,291 L219.3,291 L219.7,291 L220,291 L220.4,291 L220.8,291 L221.1,291 L221.5,291" fill="none" stroke="#eaa860" stroke-width="1.5" stroke-dasharray="4.5,3.5" clip-path="url(#noDiO)"/>
<path d="M160.3,291 L160.6,290.3 L161,289.3 L161.4,288 L161.7,286.6 L162.1,284.7 L162.5,282.4 L162.8,279.7 L163.2,276.7 L163.6,272.9 L163.9,268.1 L164.3,262.7 L164.7,257.2 L165,251.3 L165.4,244.6 L165.8,237.9 L166.1,231.8 L166.5,226.9 L166.9,223.2 L167.2,220.1 L167.6,217.4 L168,214.7 L168.3,211.8 L168.7,208.5 L169.1,205.1 L169.4,201.7 L169.8,198.2 L170.2,194.7 L170.5,191.2 L170.9,187.7 L171.3,184 L171.6,180.3 L172,177.1 L172.4,174.8 L172.7,173.1 L173.1,171.5 L173.5,170.4 L173.8,170 L174.2,170.4 L174.6,171.5 L174.9,173.1 L175.3,174.8 L175.7,177.4 L176,181 L176.4,185.2 L176.8,189.4 L177.1,193.3 L177.5,197.1 L177.9,201 L178.2,204.8 L178.6,208.5 L179,212 L179.3,215.1 L179.7,218.1 L180.1,221 L180.4,223.7 L180.8,226.2 L181.2,228.4 L181.5,230.5 L181.9,232.4 L182.3,234.3 L182.6,236 L183,237.6 L183.4,239.2 L183.7,240.7 L184.1,242.2 L184.5,243.7 L184.8,245.1 L185.2,246.6 L185.6,248.1 L185.9,249.6 L186.3,251.2 L186.7,252.7 L187,254.2 L187.4,255.5 L187.8,256.7 L188.1,257.7 L188.5,258.6 L188.9,259.3 L189.2,259.9 L189.6,260.6 L190,261.1 L190.3,261.7 L190.7,262.1 L191.1,262.6 L191.4,263 L191.8,263.4 L192.2,263.8 L192.5,264.1 L192.9,264.4 L193.3,264.7 L193.6,265 L194,265.3 L194.4,265.5 L194.7,265.8 L195.1,266 L195.5,266.2 L195.8,266.5 L196.2,266.7 L196.6,266.9 L196.9,267.2 L197.3,267.4 L197.7,267.7 L198,268 L198.4,268.3 L198.8,268.6 L199.1,269 L199.5,269.3 L199.9,269.6 L200.2,270 L200.6,270.3 L201,270.7 L201.3,271.1 L201.7,271.4 L202.1,271.8 L202.4,272.2 L202.8,272.6 L203.2,273 L203.5,273.4 L203.9,273.8 L204.3,274.1 L204.6,274.5 L205,274.9 L205.4,275.3 L205.7,275.7 L206.1,276.1 L206.5,276.5 L206.8,276.9 L207.2,277.2 L207.6,277.6 L207.9,278 L208.3,278.3 L208.7,278.7 L209,279 L209.4,279.4 L209.8,279.8 L210.1,280.1 L210.5,280.5 L210.9,280.9 L211.2,281.3 L211.6,281.6 L212,282 L212.3,282.4 L212.7,282.8 L213.1,283.2 L213.4,283.6 L213.8,283.9 L214.2,284.3 L214.5,284.7 L214.9,285 L215.3,285.4 L215.6,285.7 L216,286.1 L216.4,286.4 L216.7,286.7 L217.1,287 L217.5,287.3 L217.8,287.5 L218.2,287.8 L218.6,288 L218.9,288.2 L219.3,288.4 L219.7,288.6 L220,288.7 L220.4,288.9 L220.8,289 L221.1,289.1 L221.5,289.2 L221.5,291 L160.27,291 Z" fill="#ff0000" fill-opacity="0.52" stroke="none"/>
<path d="M160.3,291 L160.6,290.3 L161,289.3 L161.4,288 L161.7,286.6 L162.1,284.7 L162.5,282.4 L162.8,279.7 L163.2,276.7 L163.6,272.9 L163.9,268.1 L164.3,262.7 L164.7,257.2 L165,251.3 L165.4,244.6 L165.8,237.9 L166.1,231.8 L166.5,226.9 L166.9,223.2 L167.2,220.1 L167.6,217.4 L168,214.7 L168.3,211.8 L168.7,208.5 L169.1,205.1 L169.4,201.7 L169.8,198.2 L170.2,194.7 L170.5,191.2 L170.9,187.7 L171.3,184 L171.6,180.3 L172,177.1 L172.4,174.8 L172.7,173.1 L173.1,171.5 L173.5,170.4 L173.8,170 L174.2,170.4 L174.6,171.5 L174.9,173.1 L175.3,174.8 L175.7,177.4 L176,181 L176.4,185.2 L176.8,189.4 L177.1,193.3 L177.5,197.1 L177.9,201 L178.2,204.8 L178.6,208.5 L179,212 L179.3,215.1 L179.7,218.1 L180.1,221 L180.4,223.7 L180.8,226.2 L181.2,228.4 L181.5,230.5 L181.9,232.4 L182.3,234.3 L182.6,236 L183,237.6 L183.4,239.2 L183.7,240.7 L184.1,242.2 L184.5,243.7 L184.8,245.1 L185.2,246.6 L185.6,248.1 L185.9,249.6 L186.3,251.2 L186.7,252.7 L187,254.2 L187.4,255.5 L187.8,256.7 L188.1,257.7 L188.5,258.6 L188.9,259.3 L189.2,259.9 L189.6,260.6 L190,261.1 L190.3,261.7 L190.7,262.1 L191.1,262.6 L191.4,263 L191.8,263.4 L192.2,263.8 L192.5,264.1 L192.9,264.4 L193.3,264.7 L193.6,265 L194,265.3 L194.4,265.5 L194.7,265.8 L195.1,266 L195.5,266.2 L195.8,266.5 L196.2,266.7 L196.6,266.9 L196.9,267.2 L197.3,267.4 L197.7,267.7 L198,268 L198.4,268.3 L198.8,268.6 L199.1,269 L199.5,269.3 L199.9,269.6 L200.2,270 L200.6,270.3 L201,270.7 L201.3,271.1 L201.7,271.4 L202.1,271.8 L202.4,272.2 L202.8,272.6 L203.2,273 L203.5,273.4 L203.9,273.8 L204.3,274.1 L204.6,274.5 L205,274.9 L205.4,275.3 L205.7,275.7 L206.1,276.1 L206.5,276.5 L206.8,276.9 L207.2,277.2 L207.6,277.6 L207.9,278 L208.3,278.3 L208.7,278.7 L209,279 L209.4,279.4 L209.8,279.8 L210.1,280.1 L210.5,280.5 L210.9,280.9 L211.2,281.3 L211.6,281.6 L212,282 L212.3,282.4 L212.7,282.8 L213.1,283.2 L213.4,283.6 L213.8,283.9 L214.2,284.3 L214.5,284.7 L214.9,285 L215.3,285.4 L215.6,285.7 L216,286.1 L216.4,286.4 L216.7,286.7 L217.1,287 L217.5,287.3 L217.8,287.5 L218.2,287.8 L218.6,288 L218.9,288.2 L219.3,288.4 L219.7,288.6 L220,288.7 L220.4,288.9 L220.8,289 L221.1,289.1 L221.5,289.2" fill="none" stroke="#e04848" stroke-width="1"/>
<path d="M129.1,291 L129.5,288 L129.8,281.4 L130.2,272.9 L130.6,259.1 L130.9,242.6 L131.3,227.2 L131.7,213 L132,203.1 L132.4,195.4 L132.8,189.3 L133.1,184.8 L133.5,181.1 L133.9,177.9 L134.2,175.3 L134.6,173.6 L135,172.4 L135.3,171.3 L135.7,170.5 L136.1,170.1 L136.4,170.1 L136.8,170.6 L137.2,171.4 L137.5,172.5 L137.9,173.6 L138.3,174.8 L138.6,176.3 L139,177.9 L139.4,179.8 L139.7,181.9 L140.1,184.1 L140.5,186.5 L140.8,189.1 L141.2,192.2 L141.6,195.6 L141.9,199.4 L142.3,203.6 L142.7,208 L143,214 L143.4,221 L143.8,225.7 L144.1,228 L144.5,230 L144.9,231.6 L145.2,233 L145.6,234.1 L146,235 L146.3,235.8 L146.7,236.5 L147.1,237 L147.4,237.5 L147.8,237.9 L148.2,238.2 L148.5,238.5 L148.9,238.9 L149.3,239.2 L149.6,239.6 L150,240.1 L150.4,240.6 L150.7,241.3 L151.1,242.2 L151.5,243.4 L151.8,244.7 L152.2,246.1 L152.6,247.6 L152.9,249.2 L153.3,250.7 L153.7,252.2 L154,253.5 L154.4,254.9 L154.8,256.4 L155.1,257.8 L155.5,259.2 L155.9,260.6 L156.2,261.9 L156.6,263.2 L157,264.4 L157.3,265.5 L157.7,266.6 L158.1,267.7 L158.4,268.7 L158.8,269.7 L159.2,270.6 L159.5,271.5 L159.9,272.2 L160.3,272.9 L160.6,273.4 L161,273.9 L161.4,274.4 L161.7,274.8 L162.1,275.3 L162.5,275.7 L162.8,276 L163.2,276.4 L163.6,276.7 L163.9,277.1 L164.3,277.4 L164.7,277.7 L165,278 L165.4,278.3 L165.8,278.6 L166.1,278.9 L166.5,279.1 L166.9,279.4 L167.2,279.6 L167.6,279.9 L168,280.1 L168.3,280.4 L168.7,280.6 L169.1,280.8 L169.4,281.1 L169.8,281.3 L170.2,281.5 L170.5,281.8 L170.9,282 L171.3,282.3 L171.6,282.5 L172,282.8 L172.4,283.1 L172.7,283.3 L173.1,283.6 L173.5,283.9 L173.8,284.2 L174.2,284.4 L174.6,284.7 L174.9,285 L175.3,285.3 L175.7,285.5 L176,285.8 L176.4,286 L176.8,286.3 L177.1,286.5 L177.5,286.8 L177.9,287 L178.2,287.2 L178.6,287.4 L179,287.7 L179.3,287.9 L179.7,288.1 L180.1,288.3 L180.4,288.5 L180.8,288.7 L181.2,288.9 L181.5,289.1 L181.9,289.3 L182.3,289.5 L182.6,289.6 L183,289.8 L183.4,289.9 L183.7,290.1 L184.1,290.2 L184.5,290.3 L184.8,290.5 L185.2,290.6 L185.6,290.7 L185.9,290.8 L186.3,290.9 L186.7,291 L186.67,291 L129.1,291 Z" fill="#ff8000" fill-opacity="0.52" stroke="none"/>
<path d="M129.1,291 L129.5,288 L129.8,281.4 L130.2,272.9 L130.6,259.1 L130.9,242.6 L131.3,227.2 L131.7,213 L132,203.1 L132.4,195.4 L132.8,189.3 L133.1,184.8 L133.5,181.1 L133.9,177.9 L134.2,175.3 L134.6,173.6 L135,172.4 L135.3,171.3 L135.7,170.5 L136.1,170.1 L136.4,170.1 L136.8,170.6 L137.2,171.4 L137.5,172.5 L137.9,173.6 L138.3,174.8 L138.6,176.3 L139,177.9 L139.4,179.8 L139.7,181.9 L140.1,184.1 L140.5,186.5 L140.8,189.1 L141.2,192.2 L141.6,195.6 L141.9,199.4 L142.3,203.6 L142.7,208 L143,214 L143.4,221 L143.8,225.7 L144.1,228 L144.5,230 L144.9,231.6 L145.2,233 L145.6,234.1 L146,235 L146.3,235.8 L146.7,236.5 L147.1,237 L147.4,237.5 L147.8,237.9 L148.2,238.2 L148.5,238.5 L148.9,238.9 L149.3,239.2 L149.6,239.6 L150,240.1 L150.4,240.6 L150.7,241.3 L151.1,242.2 L151.5,243.4 L151.8,244.7 L152.2,246.1 L152.6,247.6 L152.9,249.2 L153.3,250.7 L153.7,252.2 L154,253.5 L154.4,254.9 L154.8,256.4 L155.1,257.8 L155.5,259.2 L155.9,260.6 L156.2,261.9 L156.6,263.2 L157,264.4 L157.3,265.5 L157.7,266.6 L158.1,267.7 L158.4,268.7 L158.8,269.7 L159.2,270.6 L159.5,271.5 L159.9,272.2 L160.3,272.9 L160.6,273.4 L161,273.9 L161.4,274.4 L161.7,274.8 L162.1,275.3 L162.5,275.7 L162.8,276 L163.2,276.4 L163.6,276.7 L163.9,277.1 L164.3,277.4 L164.7,277.7 L165,278 L165.4,278.3 L165.8,278.6 L166.1,278.9 L166.5,279.1 L166.9,279.4 L167.2,279.6 L167.6,279.9 L168,280.1 L168.3,280.4 L168.7,280.6 L169.1,280.8 L169.4,281.1 L169.8,281.3 L170.2,281.5 L170.5,281.8 L170.9,282 L171.3,282.3 L171.6,282.5 L172,282.8 L172.4,283.1 L172.7,283.3 L173.1,283.6 L173.5,283.9 L173.8,284.2 L174.2,284.4 L174.6,284.7 L174.9,285 L175.3,285.3 L175.7,285.5 L176,285.8 L176.4,286 L176.8,286.3 L177.1,286.5 L177.5,286.8 L177.9,287 L178.2,287.2 L178.6,287.4 L179,287.7 L179.3,287.9 L179.7,288.1 L180.1,288.3 L180.4,288.5 L180.8,288.7 L181.2,288.9 L181.5,289.1 L181.9,289.3 L182.3,289.5 L182.6,289.6 L183,289.8 L183.4,289.9 L183.7,290.1 L184.1,290.2 L184.5,290.3 L184.8,290.5 L185.2,290.6 L185.6,290.7 L185.9,290.8 L186.3,290.9 L186.7,291" fill="none" stroke="#f0a050" stroke-width="1"/>
<path d="M99,291 L99.4,291 L99.8,291 L100.1,291 L100.5,291 L100.9,290.8 L101.2,290.3 L101.6,289.8 L102,289.2 L102.3,288.6 L102.7,287.9 L103.1,287.2 L103.4,286.3 L103.8,285.4 L104.2,284.4 L104.5,283.3 L104.9,282.1 L105.3,280.7 L105.6,279.2 L106,277.7 L106.4,276.3 L106.7,274.7 L107.1,272.5 L107.5,268.3 L107.8,260.1 L108.2,246.4 L108.6,231.7 L108.9,221.3 L109.3,212 L109.7,203.9 L110,196.6 L110.4,190.1 L110.8,184.5 L111.1,179.4 L111.5,175 L111.9,172.4 L112.2,171.3 L112.6,170.5 L113,170.1 L113.3,170.1 L113.7,170.9 L114.1,172.2 L114.4,173.6 L114.8,175 L115.2,176.6 L115.5,178.3 L115.9,180.3 L116.3,182.4 L116.6,184.7 L117,187.3 L117.4,190.5 L117.7,194.3 L118.1,198.4 L118.5,202.5 L118.8,206.3 L119.2,209.6 L119.6,212.7 L119.9,215.8 L120.3,218.6 L120.7,221.4 L121,223.9 L121.4,226.2 L121.8,228.4 L122.1,230.5 L122.5,232.4 L122.9,234.3 L123.2,236 L123.6,237.6 L124,239 L124.3,240.3 L124.7,241.6 L125.1,242.7 L125.4,243.9 L125.8,245 L126.2,246 L126.5,247 L126.9,248 L127.3,249 L127.6,250 L128,250.9 L128.4,251.9 L128.7,252.9 L129.1,253.9 L129.5,254.8 L129.8,255.8 L130.2,256.7 L130.6,257.6 L130.9,258.5 L131.3,259.3 L131.7,260.2 L132,261 L132.4,261.8 L132.8,262.7 L133.1,263.5 L133.5,264.3 L133.9,265.1 L134.2,265.9 L134.6,266.6 L135,267.4 L135.3,268.2 L135.7,268.9 L136.1,269.6 L136.4,270.3 L136.8,270.9 L137.2,271.5 L137.5,272.1 L137.9,272.6 L138.3,273.2 L138.6,273.7 L139,274.2 L139.4,274.7 L139.7,275.2 L140.1,275.6 L140.5,276.1 L140.8,276.5 L141.2,277 L141.6,277.4 L141.9,277.8 L142.3,278.2 L142.7,278.6 L143,279 L143.4,279.3 L143.8,279.7 L144.1,280 L144.5,280.3 L144.9,280.7 L145.2,281 L145.6,281.3 L146,281.5 L146.3,281.8 L146.7,282.1 L147.1,282.4 L147.4,282.7 L147.8,282.9 L148.2,283.2 L148.5,283.4 L148.9,283.7 L149.3,283.9 L149.6,284.2 L150,284.4 L150.4,284.7 L150.7,284.9 L151.1,285.1 L151.5,285.3 L151.8,285.5 L152.2,285.7 L152.6,285.9 L152.9,286.1 L153.3,286.3 L153.7,286.5 L154,286.7 L154.4,286.8 L154.8,287 L155.1,287.2 L155.5,287.3 L155.9,287.4 L156.2,287.6 L156.6,287.7 L157,287.8 L157.3,287.9 L157.7,288.1 L158.1,288.2 L158.4,288.3 L158.8,288.4 L159.2,288.5 L159.5,288.6 L159.9,288.7 L160.3,288.8 L160.6,288.8 L161,288.9 L161.4,289 L161.7,289.1 L162.1,289.2 L162.5,289.3 L162.8,289.4 L163.2,289.4 L163.6,289.5 L163.9,289.6 L164.3,289.7 L164.7,289.8 L165,289.9 L165.4,290 L165.8,290 L166.1,290.1 L166.5,290.2 L166.9,290.3 L167.2,290.4 L167.6,290.5 L168,290.5 L168.3,290.6 L168.7,290.7 L169.1,290.8 L169.4,290.9 L169.8,290.9 L170.2,291 L170.17,291 L99.03,291 Z" fill="#1a1aff" fill-opacity="0.6" stroke="none"/>
<path d="M99,291 L99.4,291 L99.8,291 L100.1,291 L100.5,291 L100.9,290.8 L101.2,290.3 L101.6,289.8 L102,289.2 L102.3,288.6 L102.7,287.9 L103.1,287.2 L103.4,286.3 L103.8,285.4 L104.2,284.4 L104.5,283.3 L104.9,282.1 L105.3,280.7 L105.6,279.2 L106,277.7 L106.4,276.3 L106.7,274.7 L107.1,272.5 L107.5,268.3 L107.8,260.1 L108.2,246.4 L108.6,231.7 L108.9,221.3 L109.3,212 L109.7,203.9 L110,196.6 L110.4,190.1 L110.8,184.5 L111.1,179.4 L111.5,175 L111.9,172.4 L112.2,171.3 L112.6,170.5 L113,170.1 L113.3,170.1 L113.7,170.9 L114.1,172.2 L114.4,173.6 L114.8,175 L115.2,176.6 L115.5,178.3 L115.9,180.3 L116.3,182.4 L116.6,184.7 L117,187.3 L117.4,190.5 L117.7,194.3 L118.1,198.4 L118.5,202.5 L118.8,206.3 L119.2,209.6 L119.6,212.7 L119.9,215.8 L120.3,218.6 L120.7,221.4 L121,223.9 L121.4,226.2 L121.8,228.4 L122.1,230.5 L122.5,232.4 L122.9,234.3 L123.2,236 L123.6,237.6 L124,239 L124.3,240.3 L124.7,241.6 L125.1,242.7 L125.4,243.9 L125.8,245 L126.2,246 L126.5,247 L126.9,248 L127.3,249 L127.6,250 L128,250.9 L128.4,251.9 L128.7,252.9 L129.1,253.9 L129.5,254.8 L129.8,255.8 L130.2,256.7 L130.6,257.6 L130.9,258.5 L131.3,259.3 L131.7,260.2 L132,261 L132.4,261.8 L132.8,262.7 L133.1,263.5 L133.5,264.3 L133.9,265.1 L134.2,265.9 L134.6,266.6 L135,267.4 L135.3,268.2 L135.7,268.9 L136.1,269.6 L136.4,270.3 L136.8,270.9 L137.2,271.5 L137.5,272.1 L137.9,272.6 L138.3,273.2 L138.6,273.7 L139,274.2 L139.4,274.7 L139.7,275.2 L140.1,275.6 L140.5,276.1 L140.8,276.5 L141.2,277 L141.6,277.4 L141.9,277.8 L142.3,278.2 L142.7,278.6 L143,279 L143.4,279.3 L143.8,279.7 L144.1,280 L144.5,280.3 L144.9,280.7 L145.2,281 L145.6,281.3 L146,281.5 L146.3,281.8 L146.7,282.1 L147.1,282.4 L147.4,282.7 L147.8,282.9 L148.2,283.2 L148.5,283.4 L148.9,283.7 L149.3,283.9 L149.6,284.2 L150,284.4 L150.4,284.7 L150.7,284.9 L151.1,285.1 L151.5,285.3 L151.8,285.5 L152.2,285.7 L152.6,285.9 L152.9,286.1 L153.3,286.3 L153.7,286.5 L154,286.7 L154.4,286.8 L154.8,287 L155.1,287.2 L155.5,287.3 L155.9,287.4 L156.2,287.6 L156.6,287.7 L157,287.8 L157.3,287.9 L157.7,288.1 L158.1,288.2 L158.4,288.3 L158.8,288.4 L159.2,288.5 L159.5,288.6 L159.9,288.7 L160.3,288.8 L160.6,288.8 L161,288.9 L161.4,289 L161.7,289.1 L162.1,289.2 L162.5,289.3 L162.8,289.4 L163.2,289.4 L163.6,289.5 L163.9,289.6 L164.3,289.7 L164.7,289.8 L165,289.9 L165.4,290 L165.8,290 L166.1,290.1 L166.5,290.2 L166.9,290.3 L167.2,290.4 L167.6,290.5 L168,290.5 L168.3,290.6 L168.7,290.7 L169.1,290.8 L169.4,290.9 L169.8,290.9 L170.2,291" fill="none" stroke="#4a3ad8" stroke-width="1"/>
<path d="M56.5,291 L56.9,291 L57.2,291 L57.6,291 L58,291 L58.3,291 L58.7,291 L59.1,291 L59.4,291 L59.8,291 L60.2,291 L60.5,291 L60.9,291 L61.3,291 L61.6,291 L62,291 L62.4,291 L62.7,291 L63.1,291 L63.5,291 L63.8,291 L64.2,291 L64.6,291 L64.9,291 L65.3,291 L65.7,291 L66,291 L66.4,291 L66.8,291 L67.1,291 L67.5,291 L67.9,291 L68.2,291 L68.6,291 L69,291 L69.3,291 L69.7,291 L70.1,291 L70.4,291 L70.8,291 L71.2,291 L71.5,291 L71.9,291 L72.3,291 L72.6,291 L73,291 L73.4,291 L73.7,290.9 L74.1,290.7 L74.5,290.5 L74.8,290.3 L75.2,290 L75.6,289.8 L75.9,289.5 L76.3,289.2 L76.7,288.9 L77,288.5 L77.4,288 L77.8,287.6 L78.1,287 L78.5,286.5 L78.9,286 L79.2,285.4 L79.6,284.8 L80,284.1 L80.3,283.5 L80.7,282.8 L81.1,282.2 L81.4,281.5 L81.8,280.8 L82.2,280.1 L82.5,279.4 L82.9,278.7 L83.3,277.9 L83.6,277.1 L84,276.3 L84.4,275.4 L84.7,274.5 L85.1,273.6 L85.5,272.7 L85.8,271.7 L86.2,270.7 L86.6,269.7 L86.9,268.7 L87.3,267.6 L87.7,266.5 L88,265.4 L88.4,264.3 L88.8,263.1 L89.1,261.9 L89.5,260.7 L89.9,259.5 L90.2,258.3 L90.6,257 L91,255.6 L91.3,254.2 L91.7,252.8 L92.1,251.3 L92.4,249.8 L92.8,248.2 L93.2,246.6 L93.5,244.9 L93.9,243.3 L94.3,241.6 L94.6,239.9 L95,238.1 L95.4,236.4 L95.7,234.6 L96.1,232.8 L96.5,231.1 L96.8,229.3 L97.2,227.5 L97.6,225.7 L97.9,223.8 L98.3,221.9 L98.7,220 L99,218.1 L99.4,216 L99.8,214 L100.1,211.9 L100.5,209.7 L100.9,207.5 L101.2,205.2 L101.6,202.8 L102,200.3 L102.3,197.8 L102.7,195.1 L103.1,192.5 L103.4,189.8 L103.8,187.1 L104.2,184.2 L104.5,180.7 L104.9,176.9 L105.3,173.5 L105.6,171 L106,170 L106.4,170.3 L106.7,171 L107.1,172.1 L107.5,173.4 L107.8,174.8 L108.2,176.7 L108.6,179.3 L108.9,182.3 L109.3,185.8 L109.7,189.4 L110,193.4 L110.4,198.2 L110.8,203.3 L111.1,208.5 L111.5,213.6 L111.9,218.3 L112.2,222.9 L112.6,227.5 L113,232.2 L113.3,237.2 L113.7,242.6 L114.1,249.2 L114.4,256.9 L114.8,264.7 L115.2,271.6 L115.5,276.5 L115.9,279.9 L116.3,283.1 L116.6,285.7 L117,287.6 L117.4,288.6 L117.7,289.1 L118.1,289.5 L118.5,289.9 L118.8,290.2 L119.2,290.5 L119.6,290.7 L119.9,290.9 L120.3,291 L120.7,291 L121,291 L121.4,291 L121.8,291 L122.1,291 L122.5,291 L122.9,291 L123.2,291 L123.6,291 L124,291 L124.3,291 L124.7,291 L125.1,291 L125.4,291 L125.8,291 L126.2,291 L126.5,291 L126.9,291 L127.3,291 L127.6,291 L128,291 L128.4,291 L128.7,291 L129.1,291 L129.5,291 L129.8,291 L130.2,291 L130.6,291 L130.9,291 L131.3,291 L131.7,291 L132,291 L132.4,291 L132.8,291 L133.1,291 L133.5,291 L133.9,291 L134.2,291 L134.6,291 L135,291 L135.3,291 L135.7,291 L136.1,291 L136.4,291 L136.8,291 L137.2,291 L137.5,291 L137.9,291 L138.3,291 L138.6,291 L139,291 L139.4,291 L139.7,291 L140.1,291 L140.5,291 L140.8,291 L141.2,291 L141.6,291 L141.9,291 L142.3,291 L142.7,291 L143,291 L143.4,291 L143.8,291 L144.1,291 L144.5,291 L144.9,291 L145.2,291 L145.6,291 L146,291 L146.3,291 L146.7,291 L147.1,291 L147.4,291 L147.8,291 L148.2,291 L148.5,291 L148.9,291 L149.3,291 L149.6,291 L150,291 L150.4,291 L150.7,291 L151.1,291 L151.5,291 L151.8,291 L152.2,291 L152.6,291 L152.9,291 L153.3,291 L153.7,291 L154,291 L154.4,291 L154.8,291 L155.1,291 L155.5,291 L155.9,291 L156.2,291 L156.6,291 L157,291 L157.3,291 L157.7,291 L158.1,291 L158.4,291 L158.8,291 L159.2,291 L159.5,291 L159.9,291 L160.3,291 L160.6,291 L161,291 L161.4,291 L161.7,291 L162.1,291 L162.5,291 L162.8,291 L163.2,291 L163.6,291 L163.9,291 L164.3,291 L164.7,291 L165,291 L165.4,291 L165.8,291 L166.1,291 L166.5,291 L166.9,291 L167.2,291 L167.6,291 L168,291 L168.3,291 L168.7,291 L169.1,291 L169.4,291 L169.8,291 L170.2,291 L170.5,291 L170.9,291 L171.3,291 L171.6,291 L172,291 L172.4,291 L172.7,291 L173.1,291 L173.5,291 L173.8,291 L174.2,291 L174.6,291 L174.9,291 L175.3,291 L175.7,291 L176,291 L176.4,291 L176.8,291 L177.1,291 L177.5,291 L177.9,291 L178.2,291 L178.6,291 L179,291 L179.3,291 L179.7,291 L180.1,291 L180.4,291 L180.8,291 L181.2,291 L181.5,291 L181.9,291 L182.3,291 L182.6,291 L183,291 L183.4,291 L183.7,291 L184.1,291 L184.5,291 L184.8,291 L185.2,291 L185.6,291 L185.9,291 L186.3,291 L186.7,291 L187,291 L187.4,291 L187.8,291 L188.1,291 L188.5,291 L188.9,291 L189.2,291 L189.6,291 L190,291 L190.3,291 L190.7,291 L191.1,291 L191.4,291 L191.8,291 L192.2,291 L192.5,291 L192.9,291 L193.3,291 L193.6,291 L194,291 L194.4,291 L194.7,291 L195.1,291 L195.5,291 L195.8,291 L196.2,291 L196.6,291 L196.9,291 L197.3,291 L197.7,291 L198,291 L198.4,291 L198.8,291 L199.1,291 L199.5,291 L199.9,291 L200.2,291 L200.6,291 L201,291 L201.3,291 L201.7,291 L202.1,291 L202.4,291 L202.8,291 L203.2,291 L203.5,291 L203.9,291 L204.3,291 L204.6,291 L205,291 L205.4,291 L205.7,291 L206.1,291 L206.5,291 L206.8,291 L207.2,291 L207.6,291 L207.9,291 L208.3,291 L208.7,291 L209,291 L209.4,291 L209.8,291 L210.1,291 L210.5,291 L210.9,291 L211.2,291 L211.6,291 L212,291 L212.3,291 L212.7,291 L213.1,291 L213.4,291 L213.8,291 L214.2,291 L214.5,291 L214.9,291 L215.3,291 L215.6,291 L216,291 L216.4,291 L216.7,291 L217.1,291 L217.5,291 L217.8,291 L218.2,291 L218.6,291 L218.9,291 L219.3,291 L219.7,291 L220,291 L220.4,291 L220.8,291 L221.1,291 L221.5,291" fill="none" stroke="#2a2aa0" stroke-width="1.5" stroke-dasharray="4.5,3.5"/>
</g>
<rect x="56.5" y="158" width="165" height="133" fill="none" stroke="#6e6e6e" stroke-width="1"/>
<line x1="74.83" y1="291" x2="74.83" y2="294" stroke="#6e6e6e" stroke-width="1"/>
<line x1="74.83" y1="158" x2="74.83" y2="161" stroke="#6e6e6e" stroke-width="1"/>
<text x="74.83" y="303.3" text-anchor="middle" font-size="9.5" fill="#2a2a2a" stroke="#222" stroke-width="0.3" font-family="Liberation Sans, Arial, sans-serif">400</text>
<line x1="93.17" y1="291" x2="93.17" y2="293" stroke="#6e6e6e" stroke-width="1"/>
<line x1="93.17" y1="158" x2="93.17" y2="160" stroke="#6e6e6e" stroke-width="1"/>
<line x1="111.5" y1="291" x2="111.5" y2="294" stroke="#6e6e6e" stroke-width="1"/>
<line x1="111.5" y1="158" x2="111.5" y2="161" stroke="#6e6e6e" stroke-width="1"/>
<text x="111.5" y="303.3" text-anchor="middle" font-size="9.5" fill="#2a2a2a" stroke="#222" stroke-width="0.3" font-family="Liberation Sans, Arial, sans-serif">500</text>
<line x1="129.83" y1="291" x2="129.83" y2="293" stroke="#6e6e6e" stroke-width="1"/>
<line x1="129.83" y1="158" x2="129.83" y2="160" stroke="#6e6e6e" stroke-width="1"/>
<line x1="148.17" y1="291" x2="148.17" y2="294" stroke="#6e6e6e" stroke-width="1"/>
<line x1="148.17" y1="158" x2="148.17" y2="161" stroke="#6e6e6e" stroke-width="1"/>
<text x="148.17" y="303.3" text-anchor="middle" font-size="9.5" fill="#2a2a2a" stroke="#222" stroke-width="0.3" font-family="Liberation Sans, Arial, sans-serif">600</text>
<line x1="166.5" y1="291" x2="166.5" y2="293" stroke="#6e6e6e" stroke-width="1"/>
<line x1="166.5" y1="158" x2="166.5" y2="160" stroke="#6e6e6e" stroke-width="1"/>
<line x1="184.83" y1="291" x2="184.83" y2="294" stroke="#6e6e6e" stroke-width="1"/>
<line x1="184.83" y1="158" x2="184.83" y2="161" stroke="#6e6e6e" stroke-width="1"/>
<text x="184.83" y="303.3" text-anchor="middle" font-size="9.5" fill="#2a2a2a" stroke="#222" stroke-width="0.3" font-family="Liberation Sans, Arial, sans-serif">700</text>
<line x1="203.17" y1="291" x2="203.17" y2="293" stroke="#6e6e6e" stroke-width="1"/>
<line x1="203.17" y1="158" x2="203.17" y2="160" stroke="#6e6e6e" stroke-width="1"/>
<line x1="221.5" y1="291" x2="221.5" y2="294" stroke="#6e6e6e" stroke-width="1"/>
<line x1="221.5" y1="158" x2="221.5" y2="161" stroke="#6e6e6e" stroke-width="1"/>
<text x="221.5" y="303.3" text-anchor="middle" font-size="9.5" fill="#2a2a2a" stroke="#222" stroke-width="0.3" font-family="Liberation Sans, Arial, sans-serif">800</text>
<line x1="53.5" y1="291" x2="56.5" y2="291" stroke="#6e6e6e" stroke-width="1"/>
<line x1="221.5" y1="291" x2="218.5" y2="291" stroke="#6e6e6e" stroke-width="1"/>
<text x="51.5" y="294.2" text-anchor="end" font-size="9.2" fill="#2a2a2a" stroke="#222" stroke-width="0.3" font-family="Liberation Sans, Arial, sans-serif">0.0</text>
<text x="224.7" y="294.2" text-anchor="start" font-size="9.2" fill="#2a2a2a" stroke="#222" stroke-width="0.3" font-family="Liberation Sans, Arial, sans-serif">0.0</text>
<line x1="54.5" y1="278.9" x2="56.5" y2="278.9" stroke="#6e6e6e" stroke-width="1"/>
<line x1="221.5" y1="278.9" x2="219.5" y2="278.9" stroke="#6e6e6e" stroke-width="1"/>
<line x1="53.5" y1="266.8" x2="56.5" y2="266.8" stroke="#6e6e6e" stroke-width="1"/>
<line x1="221.5" y1="266.8" x2="218.5" y2="266.8" stroke="#6e6e6e" stroke-width="1"/>
<text x="51.5" y="270" text-anchor="end" font-size="9.2" fill="#2a2a2a" stroke="#222" stroke-width="0.3" font-family="Liberation Sans, Arial, sans-serif">0.2</text>
<text x="224.7" y="270" text-anchor="start" font-size="9.2" fill="#2a2a2a" stroke="#222" stroke-width="0.3" font-family="Liberation Sans, Arial, sans-serif">0.2</text>
<line x1="54.5" y1="254.7" x2="56.5" y2="254.7" stroke="#6e6e6e" stroke-width="1"/>
<line x1="221.5" y1="254.7" x2="219.5" y2="254.7" stroke="#6e6e6e" stroke-width="1"/>
<line x1="53.5" y1="242.6" x2="56.5" y2="242.6" stroke="#6e6e6e" stroke-width="1"/>
<line x1="221.5" y1="242.6" x2="218.5" y2="242.6" stroke="#6e6e6e" stroke-width="1"/>
<text x="51.5" y="245.8" text-anchor="end" font-size="9.2" fill="#2a2a2a" stroke="#222" stroke-width="0.3" font-family="Liberation Sans, Arial, sans-serif">0.4</text>
<text x="224.7" y="245.8" text-anchor="start" font-size="9.2" fill="#2a2a2a" stroke="#222" stroke-width="0.3" font-family="Liberation Sans, Arial, sans-serif">0.4</text>
<line x1="54.5" y1="230.5" x2="56.5" y2="230.5" stroke="#6e6e6e" stroke-width="1"/>
<line x1="221.5" y1="230.5" x2="219.5" y2="230.5" stroke="#6e6e6e" stroke-width="1"/>
<line x1="53.5" y1="218.4" x2="56.5" y2="218.4" stroke="#6e6e6e" stroke-width="1"/>
<line x1="221.5" y1="218.4" x2="218.5" y2="218.4" stroke="#6e6e6e" stroke-width="1"/>
<text x="51.5" y="221.6" text-anchor="end" font-size="9.2" fill="#2a2a2a" stroke="#222" stroke-width="0.3" font-family="Liberation Sans, Arial, sans-serif">0.6</text>
<text x="224.7" y="221.6" text-anchor="start" font-size="9.2" fill="#2a2a2a" stroke="#222" stroke-width="0.3" font-family="Liberation Sans, Arial, sans-serif">0.6</text>
<line x1="54.5" y1="206.3" x2="56.5" y2="206.3" stroke="#6e6e6e" stroke-width="1"/>
<line x1="221.5" y1="206.3" x2="219.5" y2="206.3" stroke="#6e6e6e" stroke-width="1"/>
<line x1="53.5" y1="194.2" x2="56.5" y2="194.2" stroke="#6e6e6e" stroke-width="1"/>
<line x1="221.5" y1="194.2" x2="218.5" y2="194.2" stroke="#6e6e6e" stroke-width="1"/>
<text x="51.5" y="197.4" text-anchor="end" font-size="9.2" fill="#2a2a2a" stroke="#222" stroke-width="0.3" font-family="Liberation Sans, Arial, sans-serif">0.8</text>
<text x="224.7" y="197.4" text-anchor="start" font-size="9.2" fill="#2a2a2a" stroke="#222" stroke-width="0.3" font-family="Liberation Sans, Arial, sans-serif">0.8</text>
<line x1="54.5" y1="182.1" x2="56.5" y2="182.1" stroke="#6e6e6e" stroke-width="1"/>
<line x1="221.5" y1="182.1" x2="219.5" y2="182.1" stroke="#6e6e6e" stroke-width="1"/>
<line x1="53.5" y1="170" x2="56.5" y2="170" stroke="#6e6e6e" stroke-width="1"/>
<line x1="221.5" y1="170" x2="218.5" y2="170" stroke="#6e6e6e" stroke-width="1"/>
<text x="51.5" y="173.2" text-anchor="end" font-size="9.2" fill="#2a2a2a" stroke="#222" stroke-width="0.3" font-family="Liberation Sans, Arial, sans-serif">1.0</text>
<text x="224.7" y="173.2" text-anchor="start" font-size="9.2" fill="#2a2a2a" stroke="#222" stroke-width="0.3" font-family="Liberation Sans, Arial, sans-serif">1.0</text>
<line x1="95" y1="290.8" x2="221.5" y2="290.8" stroke="#4a3ad8" stroke-opacity="0.7" stroke-width="1.1"/>
<line x1="61.5" y1="167.3" x2="76.5" y2="167.3" stroke="#2a2aa0" stroke-width="1.5" stroke-dasharray="4.7,5"/>
<line x1="81" y1="167.3" x2="83.5" y2="167.3" stroke="#888" stroke-width="1"/>
<text x="82.6" y="170.5" font-size="9.9" fill="#222" stroke="#222" stroke-width="0.3" font-family="Liberation Sans, Arial, sans-serif">DiO</text>
<line x1="61.5" y1="179" x2="76.5" y2="179" stroke="#eaa860" stroke-width="1.5" stroke-dasharray="4.7,5"/>
<line x1="81" y1="179" x2="83.5" y2="179" stroke="#888" stroke-width="1"/>
<text x="82.6" y="182.2" font-size="9.9" fill="#222" stroke="#222" stroke-width="0.3" font-family="Liberation Sans, Arial, sans-serif">DiI</text>
<line x1="61.5" y1="190.7" x2="76.5" y2="190.7" stroke="#cc3344" stroke-width="1.5" stroke-dasharray="4.7,5"/>
<line x1="81" y1="190.7" x2="83.5" y2="190.7" stroke="#888" stroke-width="1"/>
<text x="82.6" y="193.9" font-size="9.9" fill="#222" stroke="#222" stroke-width="0.3" font-family="Liberation Sans, Arial, sans-serif">DiD</text>
<text x="91.2" y="320.8" font-size="12.8" fill="#222" stroke="#222" stroke-width="0.3" textLength="95.6" lengthAdjust="spacingAndGlyphs" font-family="Liberation Sans, Arial, sans-serif">Wavelength (nm)</text>
<text transform="translate(29,218.5) rotate(-90)" text-anchor="middle" font-size="12.3" fill="#222" stroke="#222" stroke-width="0.3" font-family="Liberation Sans, Arial, sans-serif">Absorption</text>
<text transform="translate(242,222.5) rotate(90)" text-anchor="middle" font-size="12" fill="#222" stroke="#222" stroke-width="0.3" font-family="Liberation Sans, Arial, sans-serif">Norm. Intensity</text>
<text x="0.3" y="161.6" font-size="21" fill="#222" stroke="#222" stroke-width="0.3" textLength="25" lengthAdjust="spacingAndGlyphs" font-family="Liberation Sans, Arial, sans-serif">(b)</text>
</g>
<g id="panel-c">
<clipPath id="cc"><rect x="319.6" y="158" width="166" height="133"/></clipPath>
<g clip-path="url(#cc)">
<path d="M319.6,288.5 L320,288.3 L320.3,288.1 L320.7,287.9 L321.1,287.6 L321.4,287.3 L321.8,287 L322.2,286.7 L322.6,286.4 L322.9,286 L323.3,285.6 L323.7,285.2 L324,284.8 L324.4,284.4 L324.8,284 L325.1,283.5 L325.5,283 L325.9,282.5 L326.2,282 L326.6,281.5 L327,281 L327.3,280.5 L327.7,279.9 L328.1,279.4 L328.5,278.8 L328.8,278.3 L329.2,277.7 L329.6,277.1 L329.9,276.5 L330.3,275.8 L330.7,275.1 L331,274.4 L331.4,273.6 L331.8,272.8 L332.1,272 L332.5,271.1 L332.9,270.3 L333.2,269.4 L333.6,268.5 L334,267.5 L334.4,266.6 L334.7,265.6 L335.1,264.6 L335.5,263.6 L335.8,262.6 L336.2,261.7 L336.6,260.6 L336.9,259.6 L337.3,258.5 L337.7,257.3 L338,256.1 L338.4,254.9 L338.8,253.7 L339.2,252.5 L339.5,251.2 L339.9,249.9 L340.3,248.7 L340.6,247.4 L341,246.1 L341.4,244.9 L341.7,243.7 L342.1,242.5 L342.5,241.2 L342.8,240.1 L343.2,238.9 L343.6,237.7 L343.9,236.5 L344.3,235.3 L344.7,234.1 L345.1,232.9 L345.4,231.8 L345.8,230.6 L346.2,229.3 L346.5,228.1 L346.9,226.9 L347.3,225.6 L347.6,224.4 L348,223.1 L348.4,221.8 L348.7,220.4 L349.1,219.1 L349.5,217.7 L349.8,216.3 L350.2,214.9 L350.6,213.5 L351,212.1 L351.3,210.6 L351.7,209.1 L352.1,207.6 L352.4,206.1 L352.8,204.5 L353.2,202.9 L353.5,201.3 L353.9,199.7 L354.3,198 L354.6,196.1 L355,194.2 L355.4,192.2 L355.8,190.2 L356.1,188.2 L356.5,186.2 L356.9,184.2 L357.2,182.4 L357.6,180.7 L358,179.1 L358.3,177.7 L358.7,176.3 L359.1,174.9 L359.4,173.6 L359.8,172.3 L360.2,171 L360.5,169.9 L360.9,168.8 L361.3,167.9 L361.7,167.1 L362,166.5 L362.4,166 L362.8,165.6 L363.1,165.3 L363.5,165 L363.9,164.7 L364.2,164.6 L364.6,164.5 L365,164.5 L365.3,164.5 L365.7,164.5 L366.1,164.5 L366.4,164.5 L366.8,164.5 L367.2,164.5 L367.6,164.5 L367.9,164.6 L368.3,164.8 L368.7,165.1 L369,165.5 L369.4,166 L369.8,166.8 L370.1,168.4 L370.5,170.8 L370.9,173.8 L371.2,177 L371.6,180.5 L372,183.8 L372.4,187 L372.7,189.7 L373.1,192.3 L373.5,195 L373.8,197.6 L374.2,200.2 L374.6,202.7 L374.9,205.1 L375.3,207.4 L375.7,209.5 L376,211.5 L376.4,213.2 L376.8,214.8 L377.1,216.4 L377.5,218 L377.9,219.5 L378.3,221.2 L378.6,223 L379,225 L379.4,227.1 L379.7,229.4 L380.1,231.9 L380.5,234.4 L380.8,237 L381.2,239.6 L381.6,242.3 L381.9,244.8 L382.3,247.4 L382.7,249.8 L383,252.1 L383.4,254.2 L383.8,256.1 L384.2,258.1 L384.5,260 L384.9,261.9 L385.3,263.7 L385.6,265.4 L386,267 L386.4,268.5 L386.7,269.9 L387.1,271.1 L387.5,272.3 L387.8,273.5 L388.2,274.7 L388.6,275.8 L389,276.8 L389.3,277.8 L389.7,278.8 L390.1,279.6 L390.4,280.4 L390.8,281.1 L391.2,281.7 L391.5,282.1 L391.9,282.6 L392.3,283 L392.6,283.3 L393,283.7 L393.4,284 L393.7,284.4 L394.1,284.7 L394.5,285 L394.9,285.3 L395.2,285.5 L395.6,285.8 L396,286 L396.3,286.3 L396.7,286.5 L397.1,286.7 L397.4,286.9 L397.8,287.1 L398.2,287.3 L398.5,287.4 L398.9,287.6 L399.3,287.7 L399.6,287.8 L400,288 L400.4,288.1 L400.8,288.2 L401.1,288.3 L401.5,288.4 L401.9,288.5 L402.2,288.7 L402.6,288.8 L403,288.9 L403.3,289 L403.7,289.1 L404.1,289.2 L404.4,289.3 L404.8,289.4 L405.2,289.4 L405.6,289.5 L405.9,289.6 L406.3,289.7 L406.7,289.8 L407,289.8 L407.4,289.9 L407.8,290 L408.1,290 L408.5,290.1 L408.9,290.1 L409.2,290.2 L409.6,290.2 L410,290.3 L410.3,290.3 L410.7,290.3 L411.1,290.3 L411.5,290.4 L411.8,290.4 L412.2,290.4 L412.6,290.4 L412.9,290.4 L413.3,290.4 L413.7,290.4 L414,290.4 L414.4,290.4 L414.8,290.4 L415.1,290.4 L415.5,290.4 L415.9,290.4 L416.2,290.5 L416.6,290.5 L417,290.5 L417.4,290.5 L417.7,290.5 L418.1,290.5 L418.5,290.5 L418.8,290.5 L419.2,290.5 L419.6,290.5 L419.9,290.5 L420.3,290.5 L420.7,290.5 L421,290.5 L421.4,290.6 L421.8,290.6 L422.2,290.6 L422.5,290.6 L422.9,290.6 L423.3,290.6 L423.6,290.6 L424,290.6 L424.4,290.6 L424.7,290.6 L425.1,290.6 L425.5,290.6 L425.8,290.6 L426.2,290.6 L426.6,290.6 L426.9,290.6 L427.3,290.6 L427.7,290.6 L428.1,290.7 L428.4,290.7 L428.8,290.7 L429.2,290.7 L429.5,290.7 L429.9,290.7 L430.3,290.7 L430.6,290.7 L431,290.7 L431.4,290.7 L431.7,290.7 L432.1,290.7 L432.5,290.7 L432.8,290.7 L433.2,290.7 L433.6,290.7 L434,290.7 L434.3,290.7 L434.7,290.7 L435.1,290.7 L435.4,290.8 L435.8,290.8 L436.2,290.8 L436.5,290.8 L436.9,290.8 L437.3,290.8 L437.6,290.8 L438,290.8 L438.4,290.8 L438.8,290.8 L439.1,290.8 L439.5,290.8 L439.9,290.8 L440.2,290.8 L440.6,290.8 L441,290.8 L441.3,290.8 L441.7,290.8 L442.1,290.8 L442.4,290.8 L442.8,290.8 L443.2,290.8 L443.5,290.8 L443.9,290.8 L444.3,290.8 L444.7,290.8 L445,290.8 L445.4,290.9 L445.8,290.9 L446.1,290.9 L446.5,290.9 L446.9,290.9 L447.2,290.9 L447.6,290.9 L448,290.9 L448.3,290.9 L448.7,290.9 L449.1,290.9 L449.4,290.9 L449.8,290.9 L450.2,290.9 L450.6,290.9 L450.9,290.9 L451.3,290.9 L451.7,290.9 L452,290.9 L452.4,290.9 L452.8,290.9 L453.1,290.9 L453.5,290.9 L453.9,290.9 L454.2,290.9 L454.6,290.9 L455,290.9 L455.4,290.9 L455.7,290.9 L456.1,290.9 L456.5,290.9 L456.8,290.9 L457.2,290.9 L457.6,290.9 L457.9,290.9 L458.3,290.9 L458.7,290.9 L459,290.9 L459.4,290.9 L459.8,290.9 L460.1,290.9 L460.5,290.9 L460.9,291 L461.3,291 L461.6,291 L462,291 L462.4,291 L462.7,291 L463.1,291 L463.5,291 L463.8,291 L464.2,291 L464.6,291 L464.9,291 L465.3,291 L465.7,291 L466,291 L466.4,291 L466.8,291 L467.2,291 L467.5,291 L467.9,291 L468.3,291 L468.6,291 L469,291 L469.4,291 L469.7,291 L470.1,291 L470.5,291 L470.8,291 L471.2,291 L471.6,291 L472,291 L472.3,291 L472.7,291 L473.1,291 L473.4,291 L473.8,291 L474.2,291 L474.5,291 L474.9,291 L475.3,291 L475.6,291 L476,291 L476.4,291 L476.7,291 L477.1,291 L477.5,291 L477.9,291 L478.2,291 L478.6,291 L479,291 L479.3,291 L479.7,291 L480.1,291 L480.4,291 L480.8,291 L481.2,291 L481.5,291 L481.9,291 L482.3,291 L482.6,291 L483,291 L483.4,291 L483.8,291 L484.1,291 L484.5,291 L484.9,291 L485.2,291 L485.6,291" fill="none" stroke="#70dcea" stroke-width="1.6" stroke-dasharray="4.5,3.5"/>
<path d="M319.6,287.2 L320,287 L320.3,286.8 L320.7,286.6 L321.1,286.3 L321.4,286 L321.8,285.7 L322.2,285.4 L322.6,285.1 L322.9,284.7 L323.3,284.3 L323.7,283.9 L324,283.5 L324.4,283.1 L324.8,282.7 L325.1,282.2 L325.5,281.8 L325.9,281.3 L326.2,280.9 L326.6,280.4 L327,279.9 L327.3,279.4 L327.7,278.9 L328.1,278.3 L328.5,277.7 L328.8,277.1 L329.2,276.4 L329.6,275.8 L329.9,275.1 L330.3,274.3 L330.7,273.6 L331,272.8 L331.4,272 L331.8,271.2 L332.1,270.4 L332.5,269.6 L332.9,268.7 L333.2,267.8 L333.6,266.9 L334,266 L334.4,265.1 L334.7,264.1 L335.1,263 L335.5,261.9 L335.8,260.8 L336.2,259.6 L336.6,258.4 L336.9,257.2 L337.3,255.9 L337.7,254.6 L338,253.3 L338.4,252 L338.8,250.7 L339.2,249.3 L339.5,248 L339.9,246.7 L340.3,245.3 L340.6,243.8 L341,242.3 L341.4,240.8 L341.7,239.3 L342.1,237.8 L342.5,236.2 L342.8,234.7 L343.2,233.1 L343.6,231.6 L343.9,230.2 L344.3,228.7 L344.7,227.3 L345.1,226 L345.4,224.6 L345.8,223.2 L346.2,221.8 L346.5,220.3 L346.9,218.8 L347.3,217.2 L347.6,215.5 L348,213.8 L348.4,212.1 L348.7,210.4 L349.1,208.5 L349.5,206.7 L349.8,204.8 L350.2,202.8 L350.6,200.8 L351,198.7 L351.3,196.5 L351.7,194 L352.1,191.5 L352.4,188.8 L352.8,186.2 L353.2,183.7 L353.5,181.3 L353.9,179.1 L354.3,177.2 L354.6,175.3 L355,173.4 L355.4,171.7 L355.8,170.1 L356.1,168.8 L356.5,167.7 L356.9,166.7 L357.2,165.7 L357.6,165 L358,164.5 L358.3,164.6 L358.7,165 L359.1,165.7 L359.4,166.4 L359.8,167.1 L360.2,167.9 L360.5,168.7 L360.9,169.7 L361.3,170.6 L361.7,171.7 L362,172.8 L362.4,174 L362.8,175.2 L363.1,176.5 L363.5,177.8 L363.9,179.2 L364.2,180.6 L364.6,182 L365,183.4 L365.3,184.8 L365.7,186.2 L366.1,187.7 L366.4,189.1 L366.8,190.5 L367.2,191.9 L367.6,193.4 L367.9,194.9 L368.3,196.3 L368.7,197.9 L369,199.4 L369.4,200.9 L369.8,202.4 L370.1,203.9 L370.5,205.4 L370.9,206.8 L371.2,208.3 L371.6,209.8 L372,211.3 L372.4,212.7 L372.7,214.2 L373.1,215.7 L373.5,217.1 L373.8,218.6 L374.2,220.1 L374.6,221.5 L374.9,222.9 L375.3,224.4 L375.7,225.7 L376,227.1 L376.4,228.6 L376.8,230 L377.1,231.5 L377.5,233.1 L377.9,234.8 L378.3,236.6 L378.6,238.5 L379,240.5 L379.4,242.6 L379.7,244.7 L380.1,246.7 L380.5,248.7 L380.8,250.5 L381.2,252.3 L381.6,253.9 L381.9,255.6 L382.3,257.2 L382.7,258.7 L383,260.2 L383.4,261.7 L383.8,263.1 L384.2,264.4 L384.5,265.6 L384.9,266.8 L385.3,267.9 L385.6,269 L386,270.1 L386.4,271.1 L386.7,272.2 L387.1,273.1 L387.5,274 L387.8,274.9 L388.2,275.7 L388.6,276.5 L389,277.1 L389.3,277.7 L389.7,278.3 L390.1,278.8 L390.4,279.3 L390.8,279.8 L391.2,280.3 L391.5,280.8 L391.9,281.3 L392.3,281.7 L392.6,282.2 L393,282.6 L393.4,283 L393.7,283.4 L394.1,283.8 L394.5,284.1 L394.9,284.5 L395.2,284.8 L395.6,285.1 L396,285.4 L396.3,285.7 L396.7,285.9 L397.1,286.2 L397.4,286.4 L397.8,286.6 L398.2,286.8 L398.5,287 L398.9,287.1 L399.3,287.3 L399.6,287.4 L400,287.6 L400.4,287.7 L400.8,287.9 L401.1,288 L401.5,288.1 L401.9,288.3 L402.2,288.4 L402.6,288.5 L403,288.7 L403.3,288.8 L403.7,288.9 L404.1,289 L404.4,289.1 L404.8,289.2 L405.2,289.3 L405.6,289.4 L405.9,289.5 L406.3,289.6 L406.7,289.7 L407,289.8 L407.4,289.9 L407.8,289.9 L408.1,290 L408.5,290.1 L408.9,290.1 L409.2,290.2 L409.6,290.2 L410,290.3 L410.3,290.3 L410.7,290.3 L411.1,290.3 L411.5,290.4 L411.8,290.4 L412.2,290.4 L412.6,290.4 L412.9,290.4 L413.3,290.4 L413.7,290.4 L414,290.4 L414.4,290.4 L414.8,290.4 L415.1,290.4 L415.5,290.4 L415.9,290.4 L416.2,290.5 L416.6,290.5 L417,290.5 L417.4,290.5 L417.7,290.5 L418.1,290.5 L418.5,290.5 L418.8,290.5 L419.2,290.5 L419.6,290.5 L419.9,290.5 L420.3,290.5 L420.7,290.5 L421,290.5 L421.4,290.6 L421.8,290.6 L422.2,290.6 L422.5,290.6 L422.9,290.6 L423.3,290.6 L423.6,290.6 L424,290.6 L424.4,290.6 L424.7,290.6 L425.1,290.6 L425.5,290.6 L425.8,290.6 L426.2,290.6 L426.6,290.6 L426.9,290.6 L427.3,290.6 L427.7,290.6 L428.1,290.7 L428.4,290.7 L428.8,290.7 L429.2,290.7 L429.5,290.7 L429.9,290.7 L430.3,290.7 L430.6,290.7 L431,290.7 L431.4,290.7 L431.7,290.7 L432.1,290.7 L432.5,290.7 L432.8,290.7 L433.2,290.7 L433.6,290.7 L434,290.7 L434.3,290.7 L434.7,290.7 L435.1,290.7 L435.4,290.8 L435.8,290.8 L436.2,290.8 L436.5,290.8 L436.9,290.8 L437.3,290.8 L437.6,290.8 L438,290.8 L438.4,290.8 L438.8,290.8 L439.1,290.8 L439.5,290.8 L439.9,290.8 L440.2,290.8 L440.6,290.8 L441,290.8 L441.3,290.8 L441.7,290.8 L442.1,290.8 L442.4,290.8 L442.8,290.8 L443.2,290.8 L443.5,290.8 L443.9,290.8 L444.3,290.8 L444.7,290.8 L445,290.8 L445.4,290.9 L445.8,290.9 L446.1,290.9 L446.5,290.9 L446.9,290.9 L447.2,290.9 L447.6,290.9 L448,290.9 L448.3,290.9 L448.7,290.9 L449.1,290.9 L449.4,290.9 L449.8,290.9 L450.2,290.9 L450.6,290.9 L450.9,290.9 L451.3,290.9 L451.7,290.9 L452,290.9 L452.4,290.9 L452.8,290.9 L453.1,290.9 L453.5,290.9 L453.9,290.9 L454.2,290.9 L454.6,290.9 L455,290.9 L455.4,290.9 L455.7,290.9 L456.1,290.9 L456.5,290.9 L456.8,290.9 L457.2,290.9 L457.6,290.9 L457.9,290.9 L458.3,290.9 L458.7,290.9 L459,290.9 L459.4,290.9 L459.8,290.9 L460.1,290.9 L460.5,290.9 L460.9,291 L461.3,291 L461.6,291 L462,291 L462.4,291 L462.7,291 L463.1,291 L463.5,291 L463.8,291 L464.2,291 L464.6,291 L464.9,291 L465.3,291 L465.7,291 L466,291 L466.4,291 L466.8,291 L467.2,291 L467.5,291 L467.9,291 L468.3,291 L468.6,291 L469,291 L469.4,291 L469.7,291 L470.1,291 L470.5,291 L470.8,291 L471.2,291 L471.6,291 L472,291 L472.3,291 L472.7,291 L473.1,291 L473.4,291 L473.8,291 L474.2,291 L474.5,291 L474.9,291 L475.3,291 L475.6,291 L476,291 L476.4,291 L476.7,291 L477.1,291 L477.5,291 L477.9,291 L478.2,291 L478.6,291 L479,291 L479.3,291 L479.7,291 L480.1,291 L480.4,291 L480.8,291 L481.2,291 L481.5,291 L481.9,291 L482.3,291 L482.6,291 L483,291 L483.4,291 L483.8,291 L484.1,291 L484.5,291 L484.9,291 L485.2,291 L485.6,291" fill="none" stroke="#2a2a88" stroke-width="1.6" stroke-dasharray="4.5,3.5"/>
<path d="M372.4,291 L372.7,290.7 L373.1,290.2 L373.5,289.4 L373.8,288.5 L374.2,287.3 L374.6,285.5 L374.9,283.4 L375.3,281.3 L375.7,279.7 L376,278.6 L376.4,277.5 L376.8,276.6 L377.1,275.7 L377.5,274.9 L377.9,274.1 L378.3,273.3 L378.6,272.5 L379,271.6 L379.4,270.7 L379.7,269.8 L380.1,268.9 L380.5,268.1 L380.8,267.2 L381.2,266.3 L381.6,265.3 L381.9,264.3 L382.3,263.2 L382.7,262 L383,260.7 L383.4,259.4 L383.8,258.1 L384.2,256.8 L384.5,255.6 L384.9,254.4 L385.3,253.2 L385.6,252 L386,250.8 L386.4,249.6 L386.7,248.3 L387.1,246.9 L387.5,245.4 L387.8,243.9 L388.2,242.4 L388.6,240.8 L389,239.1 L389.3,237.3 L389.7,235.5 L390.1,233.6 L390.4,231.5 L390.8,229.5 L391.2,227.4 L391.5,225.2 L391.9,223 L392.3,220.8 L392.6,218.5 L393,216.1 L393.4,213.8 L393.7,211.6 L394.1,209.3 L394.5,207 L394.9,204.7 L395.2,202.4 L395.6,200.1 L396,197.8 L396.3,195.4 L396.7,193.1 L397.1,190.9 L397.4,188.7 L397.8,186.6 L398.2,184.5 L398.5,182.4 L398.9,180.5 L399.3,178.7 L399.6,177.1 L400,175.7 L400.4,174.4 L400.8,173.1 L401.1,171.9 L401.5,170.8 L401.9,169.8 L402.2,169 L402.6,168.3 L403,167.7 L403.3,167.1 L403.7,166.5 L404.1,166 L404.4,165.5 L404.8,165.1 L405.2,164.8 L405.6,164.6 L405.9,164.5 L406.3,164.5 L406.7,164.6 L407,164.7 L407.4,164.9 L407.8,165.1 L408.1,165.3 L408.5,165.5 L408.9,165.8 L409.2,166.1 L409.6,166.4 L410,166.8 L410.3,167.3 L410.7,168 L411.1,168.8 L411.5,169.6 L411.8,170.5 L412.2,171.5 L412.6,172.6 L412.9,173.6 L413.3,174.6 L413.7,175.7 L414,176.8 L414.4,178.1 L414.8,179.4 L415.1,180.7 L415.5,182.1 L415.9,183.6 L416.2,185.1 L416.6,186.6 L417,188.2 L417.4,189.7 L417.7,191.3 L418.1,193 L418.5,194.7 L418.8,196.5 L419.2,198.4 L419.6,200.3 L419.9,202.2 L420.3,204.2 L420.7,206.1 L421,208.1 L421.4,210 L421.8,211.8 L422.2,213.6 L422.5,215.4 L422.9,217.2 L423.3,219.1 L423.6,220.9 L424,222.6 L424.4,224.4 L424.7,226 L425.1,227.6 L425.5,229 L425.8,230.3 L426.2,231.6 L426.6,232.7 L426.9,233.9 L427.3,235 L427.7,236.2 L428.1,237.5 L428.4,238.8 L428.8,240.1 L429.2,241.5 L429.5,242.8 L429.9,244.2 L430.3,245.6 L430.6,246.9 L431,248.2 L431.4,249.4 L431.7,250.6 L432.1,251.8 L432.5,252.8 L432.8,253.8 L433.2,254.9 L433.6,255.8 L434,256.8 L434.3,257.8 L434.7,258.7 L435.1,259.6 L435.4,260.5 L435.8,261.3 L436.2,262.2 L436.5,263 L436.9,263.8 L437.3,264.6 L437.6,265.3 L438,266.1 L438.4,266.8 L438.8,267.5 L439.1,268.2 L439.5,268.9 L439.9,269.7 L440.2,270.4 L440.6,271 L441,271.7 L441.3,272.4 L441.7,273 L442.1,273.6 L442.4,274.2 L442.8,274.8 L443.2,275.4 L443.5,275.9 L443.9,276.4 L444.3,276.9 L444.7,277.3 L445,277.7 L445.4,278.1 L445.8,278.5 L446.1,278.8 L446.5,279.2 L446.9,279.6 L447.2,279.9 L447.6,280.2 L448,280.6 L448.3,280.9 L448.7,281.2 L449.1,281.5 L449.4,281.8 L449.8,282.1 L450.2,282.3 L450.6,282.6 L450.9,282.8 L451.3,283.1 L451.7,283.3 L452,283.5 L452.4,283.8 L452.8,284 L453.1,284.2 L453.5,284.3 L453.9,284.5 L454.2,284.7 L454.6,284.8 L455,285 L455.4,285.1 L455.7,285.3 L456.1,285.4 L456.5,285.5 L456.8,285.7 L457.2,285.8 L457.6,285.9 L457.9,286 L458.3,286.1 L458.7,286.3 L459,286.4 L459.4,286.5 L459.8,286.6 L460.1,286.7 L460.5,286.8 L460.9,286.9 L461.3,287 L461.6,287.1 L462,287.2 L462.4,287.2 L462.7,287.3 L463.1,287.4 L463.5,287.5 L463.8,287.6 L464.2,287.7 L464.6,287.8 L464.9,287.9 L465.3,288 L465.7,288.1 L466,288.2 L466.4,288.3 L466.8,288.4 L467.2,288.5 L467.5,288.6 L467.9,288.7 L468.3,288.8 L468.6,288.9 L469,289 L469.4,289 L469.7,289.1 L470.1,289.2 L470.5,289.2 L470.8,289.2 L471.2,289.2 L471.6,289.3 L472,289.3 L472.3,289.3 L472.7,289.3 L473.1,289.3 L473.4,289.3 L473.8,289.3 L474.2,289.3 L474.5,289.3 L474.9,289.4 L475.3,289.4 L475.6,289.4 L476,289.4 L476.4,289.4 L476.7,289.4 L477.1,289.4 L477.5,289.4 L477.9,289.4 L478.2,289.4 L478.6,289.4 L479,289.4 L479.3,289.4 L479.7,289.4 L480.1,289.5 L480.4,289.5 L480.8,289.5 L481.2,289.5 L481.5,289.5 L481.9,289.5 L482.3,289.5 L482.6,289.5 L483,289.5 L483.4,289.5 L483.8,289.5 L484.1,289.5 L484.5,289.5 L484.9,289.5 L485.2,289.5 L485.6,289.5 L485.6,291 L372.35,291 Z" fill="#00ffff" fill-opacity="0.55" stroke="none"/>
<path d="M372.4,291 L372.7,290.7 L373.1,290.2 L373.5,289.4 L373.8,288.5 L374.2,287.3 L374.6,285.5 L374.9,283.4 L375.3,281.3 L375.7,279.7 L376,278.6 L376.4,277.5 L376.8,276.6 L377.1,275.7 L377.5,274.9 L377.9,274.1 L378.3,273.3 L378.6,272.5 L379,271.6 L379.4,270.7 L379.7,269.8 L380.1,268.9 L380.5,268.1 L380.8,267.2 L381.2,266.3 L381.6,265.3 L381.9,264.3 L382.3,263.2 L382.7,262 L383,260.7 L383.4,259.4 L383.8,258.1 L384.2,256.8 L384.5,255.6 L384.9,254.4 L385.3,253.2 L385.6,252 L386,250.8 L386.4,249.6 L386.7,248.3 L387.1,246.9 L387.5,245.4 L387.8,243.9 L388.2,242.4 L388.6,240.8 L389,239.1 L389.3,237.3 L389.7,235.5 L390.1,233.6 L390.4,231.5 L390.8,229.5 L391.2,227.4 L391.5,225.2 L391.9,223 L392.3,220.8 L392.6,218.5 L393,216.1 L393.4,213.8 L393.7,211.6 L394.1,209.3 L394.5,207 L394.9,204.7 L395.2,202.4 L395.6,200.1 L396,197.8 L396.3,195.4 L396.7,193.1 L397.1,190.9 L397.4,188.7 L397.8,186.6 L398.2,184.5 L398.5,182.4 L398.9,180.5 L399.3,178.7 L399.6,177.1 L400,175.7 L400.4,174.4 L400.8,173.1 L401.1,171.9 L401.5,170.8 L401.9,169.8 L402.2,169 L402.6,168.3 L403,167.7 L403.3,167.1 L403.7,166.5 L404.1,166 L404.4,165.5 L404.8,165.1 L405.2,164.8 L405.6,164.6 L405.9,164.5 L406.3,164.5 L406.7,164.6 L407,164.7 L407.4,164.9 L407.8,165.1 L408.1,165.3 L408.5,165.5 L408.9,165.8 L409.2,166.1 L409.6,166.4 L410,166.8 L410.3,167.3 L410.7,168 L411.1,168.8 L411.5,169.6 L411.8,170.5 L412.2,171.5 L412.6,172.6 L412.9,173.6 L413.3,174.6 L413.7,175.7 L414,176.8 L414.4,178.1 L414.8,179.4 L415.1,180.7 L415.5,182.1 L415.9,183.6 L416.2,185.1 L416.6,186.6 L417,188.2 L417.4,189.7 L417.7,191.3 L418.1,193 L418.5,194.7 L418.8,196.5 L419.2,198.4 L419.6,200.3 L419.9,202.2 L420.3,204.2 L420.7,206.1 L421,208.1 L421.4,210 L421.8,211.8 L422.2,213.6 L422.5,215.4 L422.9,217.2 L423.3,219.1 L423.6,220.9 L424,222.6 L424.4,224.4 L424.7,226 L425.1,227.6 L425.5,229 L425.8,230.3 L426.2,231.6 L426.6,232.7 L426.9,233.9 L427.3,235 L427.7,236.2 L428.1,237.5 L428.4,238.8 L428.8,240.1 L429.2,241.5 L429.5,242.8 L429.9,244.2 L430.3,245.6 L430.6,246.9 L431,248.2 L431.4,249.4 L431.7,250.6 L432.1,251.8 L432.5,252.8 L432.8,253.8 L433.2,254.9 L433.6,255.8 L434,256.8 L434.3,257.8 L434.7,258.7 L435.1,259.6 L435.4,260.5 L435.8,261.3 L436.2,262.2 L436.5,263 L436.9,263.8 L437.3,264.6 L437.6,265.3 L438,266.1 L438.4,266.8 L438.8,267.5 L439.1,268.2 L439.5,268.9 L439.9,269.7 L440.2,270.4 L440.6,271 L441,271.7 L441.3,272.4 L441.7,273 L442.1,273.6 L442.4,274.2 L442.8,274.8 L443.2,275.4 L443.5,275.9 L443.9,276.4 L444.3,276.9 L444.7,277.3 L445,277.7 L445.4,278.1 L445.8,278.5 L446.1,278.8 L446.5,279.2 L446.9,279.6 L447.2,279.9 L447.6,280.2 L448,280.6 L448.3,280.9 L448.7,281.2 L449.1,281.5 L449.4,281.8 L449.8,282.1 L450.2,282.3 L450.6,282.6 L450.9,282.8 L451.3,283.1 L451.7,283.3 L452,283.5 L452.4,283.8 L452.8,284 L453.1,284.2 L453.5,284.3 L453.9,284.5 L454.2,284.7 L454.6,284.8 L455,285 L455.4,285.1 L455.7,285.3 L456.1,285.4 L456.5,285.5 L456.8,285.7 L457.2,285.8 L457.6,285.9 L457.9,286 L458.3,286.1 L458.7,286.3 L459,286.4 L459.4,286.5 L459.8,286.6 L460.1,286.7 L460.5,286.8 L460.9,286.9 L461.3,287 L461.6,287.1 L462,287.2 L462.4,287.2 L462.7,287.3 L463.1,287.4 L463.5,287.5 L463.8,287.6 L464.2,287.7 L464.6,287.8 L464.9,287.9 L465.3,288 L465.7,288.1 L466,288.2 L466.4,288.3 L466.8,288.4 L467.2,288.5 L467.5,288.6 L467.9,288.7 L468.3,288.8 L468.6,288.9 L469,289 L469.4,289 L469.7,289.1 L470.1,289.2 L470.5,289.2 L470.8,289.2 L471.2,289.2 L471.6,289.3 L472,289.3 L472.3,289.3 L472.7,289.3 L473.1,289.3 L473.4,289.3 L473.8,289.3 L474.2,289.3 L474.5,289.3 L474.9,289.4 L475.3,289.4 L475.6,289.4 L476,289.4 L476.4,289.4 L476.7,289.4 L477.1,289.4 L477.5,289.4 L477.9,289.4 L478.2,289.4 L478.6,289.4 L479,289.4 L479.3,289.4 L479.7,289.4 L480.1,289.5 L480.4,289.5 L480.8,289.5 L481.2,289.5 L481.5,289.5 L481.9,289.5 L482.3,289.5 L482.6,289.5 L483,289.5 L483.4,289.5 L483.8,289.5 L484.1,289.5 L484.5,289.5 L484.9,289.5 L485.2,289.5 L485.6,289.5" fill="none" stroke="#40e0f0" stroke-width="1"/>
<path d="M374.9,291 L375.3,287 L375.7,286.1 L376,285.7 L376.4,285.4 L376.8,285.2 L377.1,284.7 L377.5,284 L377.9,283.3 L378.3,282.6 L378.6,281.9 L379,281.2 L379.4,280.4 L379.7,279.7 L380.1,279 L380.5,278.3 L380.8,277.7 L381.2,277 L381.6,276.3 L381.9,275.6 L382.3,274.9 L382.7,274.2 L383,273.4 L383.4,272.5 L383.8,271.5 L384.2,270.5 L384.5,269.3 L384.9,268.1 L385.3,266.8 L385.6,265.4 L386,264.1 L386.4,262.6 L386.7,261 L387.1,259.4 L387.5,257.7 L387.8,256 L388.2,254.3 L388.6,252.5 L389,250.7 L389.3,248.9 L389.7,247 L390.1,245 L390.4,243 L390.8,241 L391.2,239.1 L391.5,237.3 L391.9,235.6 L392.3,233.8 L392.6,231.8 L393,229.7 L393.4,227.4 L393.7,225.1 L394.1,222.8 L394.5,220.3 L394.9,217.7 L395.2,215.1 L395.6,212.6 L396,210.1 L396.3,207.6 L396.7,205 L397.1,202.5 L397.4,200.1 L397.8,197.6 L398.2,195.3 L398.5,193.1 L398.9,191.1 L399.3,189.1 L399.6,187.2 L400,185.4 L400.4,183.6 L400.8,181.9 L401.1,180.2 L401.5,178.7 L401.9,177.2 L402.2,175.8 L402.6,174.4 L403,173 L403.3,171.7 L403.7,170.4 L404.1,169.3 L404.4,168.4 L404.8,167.7 L405.2,167.1 L405.6,166.5 L405.9,165.9 L406.3,165.4 L406.7,165 L407,164.7 L407.4,164.5 L407.8,164.5 L408.1,164.6 L408.5,164.9 L408.9,165.3 L409.2,165.9 L409.6,166.4 L410,167 L410.3,167.7 L410.7,168.4 L411.1,169.2 L411.5,170.1 L411.8,171.2 L412.2,172.3 L412.6,173.5 L412.9,174.6 L413.3,175.8 L413.7,176.9 L414,178.1 L414.4,179.2 L414.8,180.4 L415.1,181.7 L415.5,182.9 L415.9,184.2 L416.2,185.6 L416.6,186.9 L417,188.4 L417.4,189.8 L417.7,191.3 L418.1,192.9 L418.5,194.6 L418.8,196.4 L419.2,198.2 L419.6,200.2 L419.9,202.1 L420.3,204.1 L420.7,206.1 L421,208 L421.4,209.9 L421.8,211.8 L422.2,213.6 L422.5,215.4 L422.9,217.2 L423.3,219.1 L423.6,220.9 L424,222.6 L424.4,224.4 L424.7,226 L425.1,227.6 L425.5,229 L425.8,230.3 L426.2,231.6 L426.6,232.7 L426.9,233.9 L427.3,235 L427.7,236.2 L428.1,237.5 L428.4,238.8 L428.8,240.1 L429.2,241.5 L429.5,242.8 L429.9,244.2 L430.3,245.6 L430.6,246.9 L431,248.2 L431.4,249.4 L431.7,250.6 L432.1,251.8 L432.5,252.8 L432.8,253.8 L433.2,254.9 L433.6,255.8 L434,256.8 L434.3,257.8 L434.7,258.7 L435.1,259.6 L435.4,260.5 L435.8,261.3 L436.2,262.2 L436.5,263 L436.9,263.8 L437.3,264.6 L437.6,265.3 L438,266.1 L438.4,266.8 L438.8,267.5 L439.1,268.2 L439.5,268.9 L439.9,269.7 L440.2,270.4 L440.6,271 L441,271.7 L441.3,272.4 L441.7,273 L442.1,273.6 L442.4,274.2 L442.8,274.8 L443.2,275.4 L443.5,275.9 L443.9,276.4 L444.3,276.9 L444.7,277.3 L445,277.7 L445.4,278.1 L445.8,278.5 L446.1,278.8 L446.5,279.2 L446.9,279.6 L447.2,279.9 L447.6,280.2 L448,280.6 L448.3,280.9 L448.7,281.2 L449.1,281.5 L449.4,281.8 L449.8,282.1 L450.2,282.3 L450.6,282.6 L450.9,282.8 L451.3,283.1 L451.7,283.3 L452,283.5 L452.4,283.8 L452.8,284 L453.1,284.2 L453.5,284.3 L453.9,284.5 L454.2,284.7 L454.6,284.8 L455,285 L455.4,285.1 L455.7,285.2 L456.1,285.4 L456.5,285.5 L456.8,285.6 L457.2,285.7 L457.6,285.8 L457.9,285.9 L458.3,285.9 L458.7,286 L459,286.1 L459.4,286.2 L459.8,286.3 L460.1,286.3 L460.5,286.4 L460.9,286.5 L461.3,286.6 L461.6,286.7 L462,286.8 L462.4,286.9 L462.7,287 L463.1,287.1 L463.5,287.2 L463.8,287.3 L464.2,287.4 L464.6,287.6 L464.9,287.7 L465.3,287.9 L465.7,288 L466,288.2 L466.4,288.5 L466.8,288.8 L467.2,289.1 L467.16,291 L374.93,291 Z" fill="#0000ff" fill-opacity="0.55" stroke="none"/>
<path d="M374.9,291 L375.3,287 L375.7,286.1 L376,285.7 L376.4,285.4 L376.8,285.2 L377.1,284.7 L377.5,284 L377.9,283.3 L378.3,282.6 L378.6,281.9 L379,281.2 L379.4,280.4 L379.7,279.7 L380.1,279 L380.5,278.3 L380.8,277.7 L381.2,277 L381.6,276.3 L381.9,275.6 L382.3,274.9 L382.7,274.2 L383,273.4 L383.4,272.5 L383.8,271.5 L384.2,270.5 L384.5,269.3 L384.9,268.1 L385.3,266.8 L385.6,265.4 L386,264.1 L386.4,262.6 L386.7,261 L387.1,259.4 L387.5,257.7 L387.8,256 L388.2,254.3 L388.6,252.5 L389,250.7 L389.3,248.9 L389.7,247 L390.1,245 L390.4,243 L390.8,241 L391.2,239.1 L391.5,237.3 L391.9,235.6 L392.3,233.8 L392.6,231.8 L393,229.7 L393.4,227.4 L393.7,225.1 L394.1,222.8 L394.5,220.3 L394.9,217.7 L395.2,215.1 L395.6,212.6 L396,210.1 L396.3,207.6 L396.7,205 L397.1,202.5 L397.4,200.1 L397.8,197.6 L398.2,195.3 L398.5,193.1 L398.9,191.1 L399.3,189.1 L399.6,187.2 L400,185.4 L400.4,183.6 L400.8,181.9 L401.1,180.2 L401.5,178.7 L401.9,177.2 L402.2,175.8 L402.6,174.4 L403,173 L403.3,171.7 L403.7,170.4 L404.1,169.3 L404.4,168.4 L404.8,167.7 L405.2,167.1 L405.6,166.5 L405.9,165.9 L406.3,165.4 L406.7,165 L407,164.7 L407.4,164.5 L407.8,164.5 L408.1,164.6 L408.5,164.9 L408.9,165.3 L409.2,165.9 L409.6,166.4 L410,167 L410.3,167.7 L410.7,168.4 L411.1,169.2 L411.5,170.1 L411.8,171.2 L412.2,172.3 L412.6,173.5 L412.9,174.6 L413.3,175.8 L413.7,176.9 L414,178.1 L414.4,179.2 L414.8,180.4 L415.1,181.7 L415.5,182.9 L415.9,184.2 L416.2,185.6 L416.6,186.9 L417,188.4 L417.4,189.8 L417.7,191.3 L418.1,192.9 L418.5,194.6 L418.8,196.4 L419.2,198.2 L419.6,200.2 L419.9,202.1 L420.3,204.1 L420.7,206.1 L421,208 L421.4,209.9 L421.8,211.8 L422.2,213.6 L422.5,215.4 L422.9,217.2 L423.3,219.1 L423.6,220.9 L424,222.6 L424.4,224.4 L424.7,226 L425.1,227.6 L425.5,229 L425.8,230.3 L426.2,231.6 L426.6,232.7 L426.9,233.9 L427.3,235 L427.7,236.2 L428.1,237.5 L428.4,238.8 L428.8,240.1 L429.2,241.5 L429.5,242.8 L429.9,244.2 L430.3,245.6 L430.6,246.9 L431,248.2 L431.4,249.4 L431.7,250.6 L432.1,251.8 L432.5,252.8 L432.8,253.8 L433.2,254.9 L433.6,255.8 L434,256.8 L434.3,257.8 L434.7,258.7 L435.1,259.6 L435.4,260.5 L435.8,261.3 L436.2,262.2 L436.5,263 L436.9,263.8 L437.3,264.6 L437.6,265.3 L438,266.1 L438.4,266.8 L438.8,267.5 L439.1,268.2 L439.5,268.9 L439.9,269.7 L440.2,270.4 L440.6,271 L441,271.7 L441.3,272.4 L441.7,273 L442.1,273.6 L442.4,274.2 L442.8,274.8 L443.2,275.4 L443.5,275.9 L443.9,276.4 L444.3,276.9 L444.7,277.3 L445,277.7 L445.4,278.1 L445.8,278.5 L446.1,278.8 L446.5,279.2 L446.9,279.6 L447.2,279.9 L447.6,280.2 L448,280.6 L448.3,280.9 L448.7,281.2 L449.1,281.5 L449.4,281.8 L449.8,282.1 L450.2,282.3 L450.6,282.6 L450.9,282.8 L451.3,283.1 L451.7,283.3 L452,283.5 L452.4,283.8 L452.8,284 L453.1,284.2 L453.5,284.3 L453.9,284.5 L454.2,284.7 L454.6,284.8 L455,285 L455.4,285.1 L455.7,285.2 L456.1,285.4 L456.5,285.5 L456.8,285.6 L457.2,285.7 L457.6,285.8 L457.9,285.9 L458.3,285.9 L458.7,286 L459,286.1 L459.4,286.2 L459.8,286.3 L460.1,286.3 L460.5,286.4 L460.9,286.5 L461.3,286.6 L461.6,286.7 L462,286.8 L462.4,286.9 L462.7,287 L463.1,287.1 L463.5,287.2 L463.8,287.3 L464.2,287.4 L464.6,287.6 L464.9,287.7 L465.3,287.9 L465.7,288 L466,288.2 L466.4,288.5 L466.8,288.8 L467.2,289.1" fill="none" stroke="#1c48c8" stroke-width="1"/>
</g>
<rect x="319.6" y="158" width="166" height="133" fill="none" stroke="#6e6e6e" stroke-width="1"/>
<line x1="338.04" y1="291" x2="338.04" y2="294" stroke="#6e6e6e" stroke-width="1"/>
<line x1="338.04" y1="158" x2="338.04" y2="161" stroke="#6e6e6e" stroke-width="1"/>
<text x="338.04" y="303.3" text-anchor="middle" font-size="9.5" fill="#2a2a2a" stroke="#222" stroke-width="0.3" font-family="Liberation Sans, Arial, sans-serif">400</text>
<line x1="356.49" y1="291" x2="356.49" y2="293" stroke="#6e6e6e" stroke-width="1"/>
<line x1="356.49" y1="158" x2="356.49" y2="160" stroke="#6e6e6e" stroke-width="1"/>
<line x1="374.93" y1="291" x2="374.93" y2="294" stroke="#6e6e6e" stroke-width="1"/>
<line x1="374.93" y1="158" x2="374.93" y2="161" stroke="#6e6e6e" stroke-width="1"/>
<text x="374.93" y="303.3" text-anchor="middle" font-size="9.5" fill="#2a2a2a" stroke="#222" stroke-width="0.3" font-family="Liberation Sans, Arial, sans-serif">500</text>
<line x1="393.38" y1="291" x2="393.38" y2="293" stroke="#6e6e6e" stroke-width="1"/>
<line x1="393.38" y1="158" x2="393.38" y2="160" stroke="#6e6e6e" stroke-width="1"/>
<line x1="411.82" y1="291" x2="411.82" y2="294" stroke="#6e6e6e" stroke-width="1"/>
<line x1="411.82" y1="158" x2="411.82" y2="161" stroke="#6e6e6e" stroke-width="1"/>
<text x="411.82" y="303.3" text-anchor="middle" font-size="9.5" fill="#2a2a2a" stroke="#222" stroke-width="0.3" font-family="Liberation Sans, Arial, sans-serif">600</text>
<line x1="430.27" y1="291" x2="430.27" y2="293" stroke="#6e6e6e" stroke-width="1"/>
<line x1="430.27" y1="158" x2="430.27" y2="160" stroke="#6e6e6e" stroke-width="1"/>
<line x1="448.71" y1="291" x2="448.71" y2="294" stroke="#6e6e6e" stroke-width="1"/>
<line x1="448.71" y1="158" x2="448.71" y2="161" stroke="#6e6e6e" stroke-width="1"/>
<text x="448.71" y="303.3" text-anchor="middle" font-size="9.5" fill="#2a2a2a" stroke="#222" stroke-width="0.3" font-family="Liberation Sans, Arial, sans-serif">700</text>
<line x1="467.16" y1="291" x2="467.16" y2="293" stroke="#6e6e6e" stroke-width="1"/>
<line x1="467.16" y1="158" x2="467.16" y2="160" stroke="#6e6e6e" stroke-width="1"/>
<line x1="485.6" y1="291" x2="485.6" y2="294" stroke="#6e6e6e" stroke-width="1"/>
<line x1="485.6" y1="158" x2="485.6" y2="161" stroke="#6e6e6e" stroke-width="1"/>
<text x="485.6" y="303.3" text-anchor="middle" font-size="9.5" fill="#2a2a2a" stroke="#222" stroke-width="0.3" font-family="Liberation Sans, Arial, sans-serif">800</text>
<line x1="316.6" y1="291" x2="319.6" y2="291" stroke="#6e6e6e" stroke-width="1"/>
<line x1="485.6" y1="291" x2="482.6" y2="291" stroke="#6e6e6e" stroke-width="1"/>
<text x="314.6" y="294.2" text-anchor="end" font-size="9.2" fill="#2a2a2a" stroke="#222" stroke-width="0.3" font-family="Liberation Sans, Arial, sans-serif">0.0</text>
<text x="488.8" y="294.2" text-anchor="start" font-size="9.2" fill="#2a2a2a" stroke="#222" stroke-width="0.3" font-family="Liberation Sans, Arial, sans-serif">0.0</text>
<line x1="317.6" y1="278.35" x2="319.6" y2="278.35" stroke="#6e6e6e" stroke-width="1"/>
<line x1="485.6" y1="278.35" x2="483.6" y2="278.35" stroke="#6e6e6e" stroke-width="1"/>
<line x1="316.6" y1="265.7" x2="319.6" y2="265.7" stroke="#6e6e6e" stroke-width="1"/>
<line x1="485.6" y1="265.7" x2="482.6" y2="265.7" stroke="#6e6e6e" stroke-width="1"/>
<text x="314.6" y="268.9" text-anchor="end" font-size="9.2" fill="#2a2a2a" stroke="#222" stroke-width="0.3" font-family="Liberation Sans, Arial, sans-serif">0.2</text>
<text x="488.8" y="268.9" text-anchor="start" font-size="9.2" fill="#2a2a2a" stroke="#222" stroke-width="0.3" font-family="Liberation Sans, Arial, sans-serif">0.2</text>
<line x1="317.6" y1="253.05" x2="319.6" y2="253.05" stroke="#6e6e6e" stroke-width="1"/>
<line x1="485.6" y1="253.05" x2="483.6" y2="253.05" stroke="#6e6e6e" stroke-width="1"/>
<line x1="316.6" y1="240.4" x2="319.6" y2="240.4" stroke="#6e6e6e" stroke-width="1"/>
<line x1="485.6" y1="240.4" x2="482.6" y2="240.4" stroke="#6e6e6e" stroke-width="1"/>
<text x="314.6" y="243.6" text-anchor="end" font-size="9.2" fill="#2a2a2a" stroke="#222" stroke-width="0.3" font-family="Liberation Sans, Arial, sans-serif">0.4</text>
<text x="488.8" y="243.6" text-anchor="start" font-size="9.2" fill="#2a2a2a" stroke="#222" stroke-width="0.3" font-family="Liberation Sans, Arial, sans-serif">0.4</text>
<line x1="317.6" y1="227.75" x2="319.6" y2="227.75" stroke="#6e6e6e" stroke-width="1"/>
<line x1="485.6" y1="227.75" x2="483.6" y2="227.75" stroke="#6e6e6e" stroke-width="1"/>
<line x1="316.6" y1="215.1" x2="319.6" y2="215.1" stroke="#6e6e6e" stroke-width="1"/>
<line x1="485.6" y1="215.1" x2="482.6" y2="215.1" stroke="#6e6e6e" stroke-width="1"/>
<text x="314.6" y="218.3" text-anchor="end" font-size="9.2" fill="#2a2a2a" stroke="#222" stroke-width="0.3" font-family="Liberation Sans, Arial, sans-serif">0.6</text>
<text x="488.8" y="218.3" text-anchor="start" font-size="9.2" fill="#2a2a2a" stroke="#222" stroke-width="0.3" font-family="Liberation Sans, Arial, sans-serif">0.6</text>
<line x1="317.6" y1="202.45" x2="319.6" y2="202.45" stroke="#6e6e6e" stroke-width="1"/>
<line x1="485.6" y1="202.45" x2="483.6" y2="202.45" stroke="#6e6e6e" stroke-width="1"/>
<line x1="316.6" y1="189.8" x2="319.6" y2="189.8" stroke="#6e6e6e" stroke-width="1"/>
<line x1="485.6" y1="189.8" x2="482.6" y2="189.8" stroke="#6e6e6e" stroke-width="1"/>
<text x="314.6" y="193" text-anchor="end" font-size="9.2" fill="#2a2a2a" stroke="#222" stroke-width="0.3" font-family="Liberation Sans, Arial, sans-serif">0.8</text>
<text x="488.8" y="193" text-anchor="start" font-size="9.2" fill="#2a2a2a" stroke="#222" stroke-width="0.3" font-family="Liberation Sans, Arial, sans-serif">0.8</text>
<line x1="317.6" y1="177.15" x2="319.6" y2="177.15" stroke="#6e6e6e" stroke-width="1"/>
<line x1="485.6" y1="177.15" x2="483.6" y2="177.15" stroke="#6e6e6e" stroke-width="1"/>
<line x1="316.6" y1="164.5" x2="319.6" y2="164.5" stroke="#6e6e6e" stroke-width="1"/>
<line x1="485.6" y1="164.5" x2="482.6" y2="164.5" stroke="#6e6e6e" stroke-width="1"/>
<text x="314.6" y="167.7" text-anchor="end" font-size="9.2" fill="#2a2a2a" stroke="#222" stroke-width="0.3" font-family="Liberation Sans, Arial, sans-serif">1.0</text>
<text x="488.8" y="167.7" text-anchor="start" font-size="9.2" fill="#2a2a2a" stroke="#222" stroke-width="0.3" font-family="Liberation Sans, Arial, sans-serif">1.0</text>
<line x1="319.6" y1="290.8" x2="467" y2="290.8" stroke="#2a50c8" stroke-opacity="0.75" stroke-width="1.1"/>
<line x1="467" y1="290.8" x2="485.6" y2="290.8" stroke="#40d8e8" stroke-width="1.1"/>
<rect x="415.5" y="161.3" width="69" height="21.5" fill="#fff"/>
<rect x="417.4" y="161.8" width="18" height="9.6" fill="#73f2f2"/>
<rect x="417.4" y="171.6" width="18" height="9" fill="#7373ec"/>
<text x="437.7" y="169.3" font-size="8.1" fill="#222" stroke="#222" stroke-width="0.15" textLength="44.8" lengthAdjust="spacingAndGlyphs" font-family="Liberation Sans, Arial, sans-serif">4-Di-10-ASP</text>
<text x="437.7" y="178.9" font-size="8.1" fill="#222" stroke="#222" stroke-width="0.15" font-family="Liberation Sans, Arial, sans-serif">DiA</text>
<text x="354.5" y="320.8" font-size="12.8" fill="#222" stroke="#222" stroke-width="0.3" textLength="95.6" lengthAdjust="spacingAndGlyphs" font-family="Liberation Sans, Arial, sans-serif">Wavelength (nm)</text>
<text transform="translate(293,220.6) rotate(-90)" text-anchor="middle" font-size="12.4" fill="#222" stroke="#222" stroke-width="0.3" font-family="Liberation Sans, Arial, sans-serif">Absorption</text>
<text transform="translate(506.4,222.3) rotate(90)" text-anchor="middle" font-size="12" fill="#222" stroke="#222" stroke-width="0.3" font-family="Liberation Sans, Arial, sans-serif">Norm. Intensity</text>
<text x="253.9" y="164.8" font-size="21.2" fill="#222" stroke="#222" stroke-width="0.3" textLength="26.6" lengthAdjust="spacingAndGlyphs" font-family="Liberation Sans, Arial, sans-serif">(c)</text>
</g>
</svg>
</body></html>
